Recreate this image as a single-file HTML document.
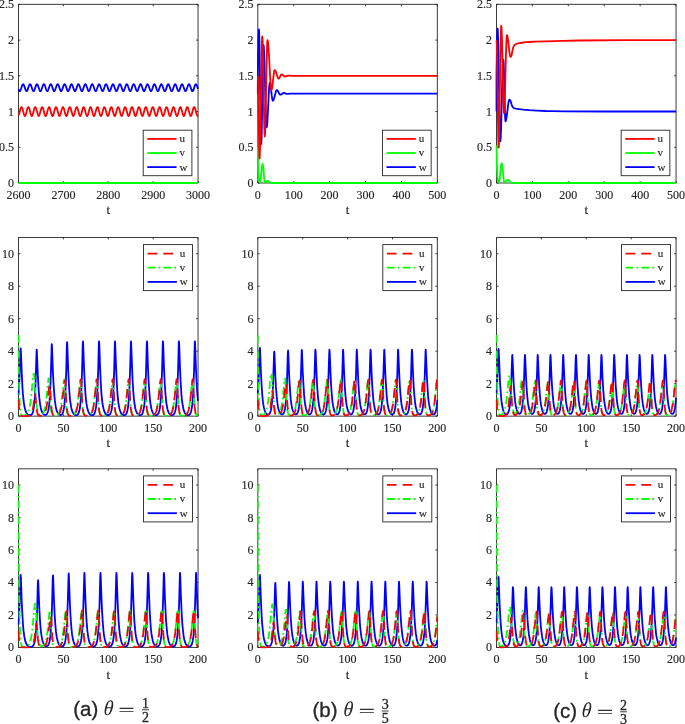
<!DOCTYPE html>
<html lang="en"><head><meta charset="utf-8"><title>Figure</title>
<style>
html,body{margin:0;padding:0;background:#fff}
svg{display:block}
text{fill:#262626;stroke:#262626;stroke-width:0.15px;font-family:"Liberation Serif","DejaVu Serif",serif}
.tk text{font-size:12px}
.xl{font-size:13px}
.lg{font-size:11px}
.cp{font-family:"Liberation Sans","DejaVu Sans",sans-serif;font-size:20.5px;stroke-width:0.3px}
.th{font-style:italic;font-size:21px;stroke-width:0}
.eq{font-size:15.6px;stroke-width:0.3px}
.fr{font-size:14px;stroke-width:0.3px}
</style></head><body>
<svg width="685" height="724" viewBox="0 0 685 724">
<rect width="685" height="724" fill="#fff"/>
<g class="tk" text-anchor="middle">
<text x="18.5" y="198.9">2600</text>
<text x="63.39" y="198.9">2700</text>
<text x="108.28" y="198.9">2800</text>
<text x="153.16" y="198.9">2900</text>
<text x="198.05" y="198.9">3000</text>
</g>
<g class="tk" text-anchor="end">
<text x="14.1" y="187">0</text>
<text x="14.1" y="151.27">0.5</text>
<text x="14.1" y="115.54">1</text>
<text x="14.1" y="79.81">1.5</text>
<text x="14.1" y="44.08">2</text>
<text x="14.1" y="8.35">2.5</text>
</g>
<text class="xl" text-anchor="middle" x="108.28" y="214.2">t</text>
<path d="M18.5,4.35H198.05V183H18.5ZM18.5,183v-1.9M18.5,4.35v1.9M63.39,183v-1.9M63.39,4.35v1.9M108.28,183v-1.9M108.28,4.35v1.9M153.16,183v-1.9M153.16,4.35v1.9M198.05,183v-1.9M198.05,4.35v1.9M18.5,183h1.9M198.05,183h-1.9M18.5,147.27h1.9M198.05,147.27h-1.9M18.5,111.54h1.9M198.05,111.54h-1.9M18.5,75.81h1.9M198.05,75.81h-1.9M18.5,40.08h1.9M198.05,40.08h-1.9M18.5,4.35h1.9M198.05,4.35h-1.9" fill="none" stroke="#262626" stroke-width="0.9"/>
<path d="M18.5,89.3l0.4,1.1 0.4,0.6 0.3,0.2 0.2-0.1 0.3-0.1 0.3-0.6 0.3-0.7 1.2-3.5 0.4-1.1 0.5-0.7 0.3-0.2 0.3,0.1 0.5,0.7 0.4,1.1 1.4,4 0.4,0.8 0.3,0.2 0.2,0.1 0.2-0.1 0.2-0.2 0.5-0.8 1.3-4 0.5-1.1 0.4-0.7 0.4-0.1 0.2,0.1 0.2,0.2 0.5,0.8 1.3,4 0.5,1.1 0.4,0.6 0.3,0.2 0.4-0.2 0.4-0.8 0.5-1.1 1.2-3.7 0.5-0.9 0.2-0.2 0.2-0.1 0.3,0.1 0.5,0.6 0.4,1.1 1.4,4 0.4,0.9 0.3,0.2 0.2,0.1 0.3-0.2 0.5-0.6 0.4-1.1 1.4-4 0.4-0.8 0.2-0.3 0.3,0 0.2,0 0.2,0.3 0.5,0.8 1.3,4 0.5,1.1 0.4,0.6 0.3,0.2 0.3-0.1 0.2-0.2 0.4-0.9 1.4-4 0.4-1.1 0.5-0.6 0.3-0.1 0.2,0.1 0.3,0.2 0.4,0.9 1.3,3.7 0.4,1.1 0.4,0.8 0.4,0.2 0.3-0.2 0.5-0.6 0.4-1.1 1.4-4 0.4-0.8 0.2-0.2 0.3-0.1 0.3,0.1 0.4,0.7 0.5,1.1 1.3,4 0.5,0.8 0.2,0.2 0.2,0.1 0.3-0.1 0.2-0.2 0.4-0.8 1.4-4 0.4-1.1 0.5-0.7 0.3-0.1 0.4,0.2 0.4,0.7 0.5,1.1 1.2,3.7 0.4,0.9 0.3,0.3 0.2,0.1 0.3-0.1 0.5-0.7 0.4-1 1.4-4 0.4-0.9 0.2-0.2 0.3-0.1 0.3,0.1 0.5,0.7 0.4,1.1 1.3,3.9 0.5,0.9 0.2,0.2 0.2,0.1 0.4-0.2 0.4-0.7 0.5-1.1 1.3-4 0.5-0.8 0.2-0.2 0.2,0 0.2,0.1 0.3,0.2 0.4,0.8 1.4,4 0.4,1.1 0.5,0.6 0.3,0.2 0.3-0.2 0.5-0.8 0.4-1.1 1.3-3.7 0.4-0.9 0.2-0.2 0.3-0.1 0.3,0.1 0.5,0.6 0.4,1.1 1.4,4 0.4,0.8 0.2,0.3 0.2,0.1 0.4-0.2 0.4-0.6 0.5-1.1 1.3-4 0.5-0.8 0.2-0.3 0.2,0 0.3,0 0.2,0.3 0.4,0.8 1.4,3.9 0.4,1.2 0.5,0.6 0.3,0.2 0.2-0.1 0.3-0.2 0.4-0.9 1.4-4 0.4-1.1 0.4-0.6 0.4-0.1 0.3,0.2 0.5,0.7 0.4,1.2 1.3,3.7 0.4,0.8 0.2,0.3 0.3,0.1 0.3-0.1 0.4-0.7 0.5-1.1 1.3-4 0.5-0.8 0.2-0.2 0.2-0.1 0.4,0.1 0.4,0.7 0.5,1.1 1.3,4 0.5,0.8 0.2,0.2 0.2,0.1 0.2-0.1 0.3-0.2 0.4-0.8 1.4-4 0.4-1.1 0.5-0.7 0.3-0.1 0.3,0.2 0.5,0.7 0.4,1.1 1.3,3.7 0.4,0.9 0.2,0.3 0.3,0.1 0.3-0.1 0.4-0.7 0.5-1 1.3-4 0.5-0.9 0.2-0.2 0.2-0.1 0.4,0.1 0.4,0.6 0.5,1.1 1.3,4 0.5,0.9 0.2,0.2 0.2,0.1 0.3-0.2 0.5-0.6 0.4-1.2 1.4-3.9 0.4-0.9 0.3-0.2 0.2,0 0.2,0 0.2,0.3 0.5,0.8 1.3,4 0.5,1.1 0.4,0.6 0.4,0.2 0.3-0.2 0.5-0.7 0.4-1.2 1.2-3.7 0.5-0.9 0.2-0.2 0.2-0.1 0.4,0.1 0.4,0.6 0.5,1.1 1.3,4 0.5,0.8 0.2,0.3 0.2,0.1 0.4-0.2 0.4-0.6 0.4-1.1 1.4-4 0.4-0.8 0.3-0.3 0.2,0 0.2,0 0.2,0.2 0.5,0.9 1.3,3.9 0.5,1.1 0.4,0.7 0.4,0.2 0.2-0.1 0.2-0.2 0.5-0.9 1.3-4 0.5-1.1 0.4-0.6 0.4-0.1 0.3,0.2 0.4,0.7 0.5,1.2 1.2,3.7 0.5,0.8 0.2,0.3 0.2,0.1 0.4-0.1 0.4-0.7 0.5-1.1 1.3-4 0.4-0.8 0.3-0.2 0.2-0.1 0.3,0.1 0.5,0.7 0.4,1.1 1.4,4 0.4,0.8 0.3,0.2 0.2,0.1 0.2-0.1 0.2-0.2 0.5-0.8 1.3-4 0.5-1.1 0.4-0.7 0.4-0.1 0.3,0.2 0.4,0.7 0.5,1.1 1.2,3.7 0.5,0.9 0.2,0.3 0.2,0.1 0.4-0.1 0.4-0.6 0.5-1.1 1.3-4 0.5-0.9 0.2-0.2 0.2-0.1 0.3,0.1 0.5,0.6 0.4,1.1 1.4,4 0.4,0.9 0.3,0.2 0.2,0.1 0.3-0.2 0.5-0.6 0.4-1.2 1.4-3.9 0.4-0.8 0.2-0.3 0.3,0 0.3,0.1 0.4,0.7 0.5,1.2 1.2,3.7 0.5,0.9 0.2,0.2 0.2,0.2 0.4-0.1 0.4-0.6 0.5-1.1 1.3-4 0.5-0.9 0.2-0.2 0.2-0.1 0.3,0.1 0.5,0.6 0.4,1.1 1.4,4 0.4,0.8 0.4,0.3 0.2,0.1 0.2-0.2 0.5-0.6 0.4-1.1 1.4-4 0.4-0.8 0.2-0.2 0.3-0.1 0.3,0.1 0.4,0.7 0.5,1.1 1.2,3.7 0.5,0.9 0.3,0.4 0.2,0.1 0.3-0.1 0.2-0.2 0.2-0.4 0.5-1 1-3.1 0.4-1.2 0.5-0.8 0.3-0.2 0.2,0 0.3,0.2 0.4,0.7 0.5,1.2 0.8,2.7" fill="none" stroke="#0000ff" stroke-width="1.8" stroke-linejoin="round"/>
<path d="M18.5,183l179.5,0" fill="none" stroke="#00ff00" stroke-width="1.8" stroke-linejoin="round"/>
<path d="M18.5,115.5l0.6-1.5 1.4-5.4 0.5-1.1 0.2-0.3 0.2-0.1 0.2,0.1 0.3,0.2 0.4,1 0.5,1.5 1,3.9 0.4,1.3 0.2,0.5 0.3,0.3 0.2,0.1 0.2-0.1 0.4-0.5 0.4-1.1 1.2-4.7 0.5-1.4 0.4-0.9 0.4-0.2 0.2,0.1 0.2,0.3 0.5,1.1 1.3,5 0.5,1.4 0.4,0.8 0.2,0.2 0.3-0.1 0.3-0.4 0.5-1 1.2-4.7 0.4-1.5 0.5-0.9 0.3-0.3 0.2,0.1 0.3,0.2 0.4,1 0.5,1.5 1,3.9 0.4,1.3 0.3,0.5 0.2,0.3 0.2,0.1 0.1,0 0.3-0.4 0.5-1 0.4-1.5 0.9-3.5 0.5-1.4 0.4-0.9 0.4-0.2 0.2,0.1 0.2,0.3 0.5,1 1.3,5 0.5,1.4 0.4,0.9 0.2,0.2 0.2,0 0.2-0.1 0.2-0.3 0.5-1.1 1.3-5 0.5-1.4 0.4-0.8 0.2-0.2 0.1,0 0.3,0.1 0.2,0.4 0.4,1 1.4,5.1 0.4,1.4 0.3,0.4 0.2,0.3 0.2,0.2 0.1,0 0.2-0.2 0.3-0.3 0.4-1.1 1.2-4.7 0.5-1.5 0.4-0.9 0.4-0.2 0.1,0 0.2,0.2 0.5,0.8 0.4,1.5 1.4,5 0.4,1 0.2,0.3 0.3,0.1 0.2-0.1 0.2-0.3 0.5-1 1.3-5.1 0.5-1.4 0.4-0.8 0.2-0.2 0.1,0 0.3,0.1 0.2,0.3 0.4,1.1 1.4,5 0.4,1.4 0.3,0.5 0.2,0.3 0.2,0.2 0.1,0 0.2-0.2 0.3-0.3 0.4-1.1 1.2-4.6 0.5-1.5 0.4-0.9 0.4-0.3 0.1,0 0.2,0.2 0.5,0.8 0.4,1.4 1.4,5 0.4,1.1 0.2,0.3 0.3,0.1 0.3-0.2 0.4-0.9 0.5-1.4 0.9-3.5 0.4-1.5 0.5-1 0.2-0.3 0.2-0.1 0.3,0.1 0.2,0.3 0.4,1 1.4,5.1 0.4,1.4 0.5,0.8 0.2,0.2 0.1,0 0.4-0.3 0.4-0.9 0.5-1.5 1.2-4.6 0.4-1.1 0.3-0.4 0.2-0.1 0.2,0.1 0.2,0.2 0.5,1 0.4,1.4 1,4 0.5,1.3 0.2,0.5 0.2,0.3 0.3,0.1 0.1,0 0.2-0.2 0.2-0.3 0.5-1.2 1.2-4.7 0.5-1.4 0.4-0.9 0.3-0.2 0.3,0.1 0.2,0.3 0.4,1 1.4,5 0.4,1.4 0.5,0.9 0.2,0.2 0.1,0 0.2-0.1 0.3-0.3 0.4-1.1 1.4-5 0.4-1.4 0.5-0.8 0.2-0.2 0.1,0 0.2,0.1 0.3,0.3 0.4,1.1 1.3,5.1 0.5,1.4 0.2,0.4 0.2,0.3 0.3,0.2 0.1,0 0.2-0.2 0.2-0.3 0.5-1.1 1.2-4.7 0.5-1.4 0.4-1 0.3-0.2 0.2,0 0.2,0.2 0.4,0.8 0.5,1.4 1.3,5.1 0.5,1 0.2,0.3 0.2,0.1 0.3-0.1 0.2-0.3 0.4-1 1.4-5.1 0.4-1.4 0.5-0.8 0.2-0.2 0.1,0 0.2,0.1 0.3,0.3 0.4,1.1 1.3,5 0.5,1.4 0.4,0.8 0.3,0.2 0.1,0 0.2-0.2 0.2-0.3 0.5-1.1 1.2-4.6 0.5-1.5 0.4-0.9 0.4-0.3 0.1,0 0.2,0.2 0.4,0.8 0.5,1.4 1.3,5 0.5,1.1 0.2,0.3 0.2,0.1 0.4-0.2 0.4-0.9 0.5-1.4 1.3-5 0.5-1 0.2-0.3 0.2-0.1 0.2,0.1 0.3,0.3 0.4,1 1.4,5.1 0.4,1.4 0.4,0.8 0.3,0.2 0.1,0 0.2-0.1 0.2-0.3 0.5-1.1 1.3-5.1 0.5-1.3 0.2-0.5 0.2-0.3 0.3-0.2 0.1,0 0.2,0.2 0.2,0.3 0.5,1.1 1.2,4.6 0.4,1.5 0.5,0.9 0.3,0.3 0.1,0 0.3-0.2 0.4-0.8 0.5-1.4 1.3-5.1 0.5-1 0.2-0.3 0.2-0.1 0.2,0.1 0.3,0.3 0.4,1 0.5,1.5 0.9,3.5 0.4,1.4 0.5,0.9 0.3,0.2 0.2-0.1 0.2-0.3 0.5-1.1 1.3-5 0.5-1.4 0.4-0.8 0.3-0.2 0.1,0 0.2,0.1 0.2,0.3 0.5,1.1 1.3,5.1 0.5,1.3 0.2,0.5 0.2,0.3 0.2,0.2 0.1,0 0.3-0.2 0.2-0.3 0.4-1.1 1.3-4.7 0.4-1.4 0.5-1 0.3-0.2 0.1,0 0.3,0.2 0.4,0.8 0.4,1.4 1.4,5.1 0.4,1 0.3,0.3 0.2,0.1 0.2-0.1 0.2-0.3 0.5-1 1.3-5.1 0.5-1.4 0.4-0.8 0.3-0.2 0.1,0 0.2,0.1 0.2,0.3 0.5,1.1 1.3,5 0.5,1.4 0.4,0.8 0.2,0.2 0.1,0 0.3-0.2 0.2-0.3 0.4-1.1 1.3-4.6 0.4-1.5 0.5-0.9 0.3-0.3 0.1,0 0.3,0.2 0.4,0.8 0.5,1.4 1.3,5 0.4,1.1 0.3,0.3 0.2,0.1 0.1,0 0.2-0.2 0.5-0.9 0.4-1.4 1.4-5 0.4-1 0.2-0.3 0.3-0.1 0.2,0.1 0.2,0.3 0.5,1 1.3,5.1 0.5,1.4 0.4,0.8 0.2,0.2 0.2,0 0.2-0.1 0.2-0.3 0.5-1.1 1.3-5.1 0.4-1.3 0.3-0.5 0.2-0.3 0.2-0.2 0.1,0 0.3,0.1 0.2,0.4 0.4,1.1 1.3,4.6 0.4,1.5 0.5,0.9 0.3,0.3 0.1,0 0.2-0.2 0.5-0.8 0.4-1.4 1.4-5.1 0.4-1 0.3-0.3 0.2-0.1 0.3,0.2 0.5,0.9 0.4,1.4 0.9,3.5 0.5,1.5 0.4,1 0.2,0.3 0.3,0.1 0.2-0.1 0.2-0.3 0.5-1.1 1.3-5 0.4-1.4 0.5-0.8 0.2-0.2 0.1,0 0.3,0.1 0.2,0.3 0.4,1.1 1.4,5.1 0.5,1.6 0.4,0.5 0.2,0.2 0.2-0.1 0.2-0.2" fill="none" stroke="#ff0000" stroke-width="1.8" stroke-linejoin="round"/>
<rect x="143.2" y="130.2" width="48.7" height="45.5" fill="#fff" stroke="#262626" stroke-width="0.9"/>
<path d="M147.3,138.9H176.6" stroke="#ff0000" stroke-width="1.8" fill="none"/>
<text class="lg" x="179.5" y="142.3">u</text>
<path d="M147.3,153H176.6" stroke="#00ff00" stroke-width="1.8" fill="none"/>
<text class="lg" x="179.5" y="156.4">v</text>
<path d="M147.3,167.1H176.6" stroke="#0000ff" stroke-width="1.8" fill="none"/>
<text class="lg" x="179.5" y="170.5">w</text>
<g class="tk" text-anchor="middle">
<text x="257.8" y="198.9">0</text>
<text x="293.71" y="198.9">100</text>
<text x="329.62" y="198.9">200</text>
<text x="365.53" y="198.9">300</text>
<text x="401.44" y="198.9">400</text>
<text x="437.35" y="198.9">500</text>
</g>
<g class="tk" text-anchor="end">
<text x="253.4" y="187">0</text>
<text x="253.4" y="151.27">0.5</text>
<text x="253.4" y="115.54">1</text>
<text x="253.4" y="79.81">1.5</text>
<text x="253.4" y="44.08">2</text>
<text x="253.4" y="8.35">2.5</text>
</g>
<text class="xl" text-anchor="middle" x="347.58" y="214.2">t</text>
<path d="M257.8,4.35H437.35V183H257.8ZM257.8,183v-1.9M257.8,4.35v1.9M293.71,183v-1.9M293.71,4.35v1.9M329.62,183v-1.9M329.62,4.35v1.9M365.53,183v-1.9M365.53,4.35v1.9M401.44,183v-1.9M401.44,4.35v1.9M437.35,183v-1.9M437.35,4.35v1.9M257.8,183h1.9M437.35,183h-1.9M257.8,147.27h1.9M437.35,147.27h-1.9M257.8,111.54h1.9M437.35,111.54h-1.9M257.8,75.81h1.9M437.35,75.81h-1.9M257.8,40.08h1.9M437.35,40.08h-1.9M257.8,4.35h1.9M437.35,4.35h-1.9" fill="none" stroke="#262626" stroke-width="0.9"/>
<path d="M257.8,93.7l0.1-27.5 0.5-27.7 0.3-7.1 0.1-1.5 0.1-0.5 0.1,1.1 0.2,3.2 0.3,12.4 1.2,84.9 0.2,9.6 0.2,2.8 0.1,0.6 0.1-0.9 0.2-2.7 0.3-11.7 0.9-56.8 0.3-16.2 0.3-7.9 0.1-2.2 0.1-0.5 0.1,0.1 0.1,0.6 0.2,2.5 0.4,9.1 1.3,48 0.4,12.6 0.3,7.1 0.2,1.7 0.2,0.5 0.1-0.4 0.3-1.3 0.4-5.4 1.2-25 0.4-7.3 0.4-3.8 0.2-0.9 0.1-0.2 0.2,0.1 0.2,0.6 0.4,2 1.2,10.2 0.4,2.8 0.4,1.6 0.1,0.4 0.2,0.1 0.2-0.1 0.2-0.2 0.4-0.9 0.5-1.6 1.2-4.6 0.4-1.7 0.5-1.2 0.3-0.3 0.2-0.1 0.2,0 0.3,0.2 0.5,0.5 1.4,2.7 0.4,0.7 0.4,0.4 0.4,0.1 0.4,0 0.4-0.2 1.7-1.3 0.4-0.2 0.4,0 0.9,0.1 1.9,0.7 0.7,0.1 3.6-0.2 146.6,0" fill="none" stroke="#0000ff" stroke-width="1.8" stroke-linejoin="round"/>
<path d="M257.8,147.1l0.3,17.8 0.2,5.7 0.2,4.5 0.3,3.2 0.3,2.1 0.4,1.3 0.2,0.4 0.3,0.3 0.1-0.1 0.2-0.6 0.3-2.3 1-10.5 0.4-2.8 0.3-1.6 0.1-0.4 0.1-0.2 0.2,0.2 0.1,0.5 0.4,2.1 1.2,13.8 0.3,1.7 0.2,0.4 0.1,0.1 0.3-0.1 0.4-0.2 1.5-1.3 0.3-0.2 0.3,0 0.3,0 0.3,0.2 1.6,1.6 0.4,0.2 0.3,0.1 166.7,0" fill="none" stroke="#00ff00" stroke-width="1.8" stroke-linejoin="round"/>
<path d="M257.8,75.8l0.1,0.4 0.1,1.8 0.2,8.1 0.9,60.5 0.2,8.9 0.1,2.4 0.1,0.8 0.2-0.8 0.1-2.4 0.3-10.9 0.4-19.4 1.1-69.5 0.3-14.2 0.2-3.7 0.1-1.1 0.1-0.2 0.1,0.8 0.2,3.3 0.3,11.8 1,57.1 0.3,15.8 0.3,8.7 0.2,2.1 0.1,0.5 0-0.2 0.1-0.9 0.2-3 0.4-11.5 1-53.9 0.4-15.6 0.3-8.8 0.2-2 0.1-0.6 0.1,0.1 0.1,0.4 0.3,1.5 0.5,5.6 0.5,7.7 1.1,21.4 0.5,7.7 0.4,4.1 0.2,1.1 0.1,0.3 0.1,0.1 0.2-0.1 0.2-0.6 0.5-2.4 1.3-11.6 0.4-3 0.3-1.7 0.2-0.5 0.2-0.1 0.2,0.1 0.3,0.2 0.5,1 0.5,1.3 1.1,3.7 0.5,1.3 0.4,0.7 0.2,0.2 0.2,0.1 0.4-0.2 0.4-0.5 1.1-2.4 0.4-0.7 0.3-0.4 0.3-0.1 0.5,0.1 0.4,0.2 1.9,1.6 0.4,0.2 0.4,0 0.9-0.1 1.9-0.7 0.8-0.1 3.6,0.2 145.1,0" fill="none" stroke="#ff0000" stroke-width="1.8" stroke-linejoin="round"/>
<rect x="382.45" y="130.2" width="48.7" height="45.5" fill="#fff" stroke="#262626" stroke-width="0.9"/>
<path d="M386.55,138.9H415.85" stroke="#ff0000" stroke-width="1.8" fill="none"/>
<text class="lg" x="418.75" y="142.3">u</text>
<path d="M386.55,153H415.85" stroke="#00ff00" stroke-width="1.8" fill="none"/>
<text class="lg" x="418.75" y="156.4">v</text>
<path d="M386.55,167.1H415.85" stroke="#0000ff" stroke-width="1.8" fill="none"/>
<text class="lg" x="418.75" y="170.5">w</text>
<g class="tk" text-anchor="middle">
<text x="496.5" y="198.9">0</text>
<text x="532.41" y="198.9">100</text>
<text x="568.32" y="198.9">200</text>
<text x="604.23" y="198.9">300</text>
<text x="640.14" y="198.9">400</text>
<text x="676.05" y="198.9">500</text>
</g>
<g class="tk" text-anchor="end">
<text x="492.1" y="187">0</text>
<text x="492.1" y="151.27">0.5</text>
<text x="492.1" y="115.54">1</text>
<text x="492.1" y="79.81">1.5</text>
<text x="492.1" y="44.08">2</text>
<text x="492.1" y="8.35">2.5</text>
</g>
<text class="xl" text-anchor="middle" x="586.27" y="214.2">t</text>
<path d="M496.5,4.35H676.05V183H496.5ZM496.5,183v-1.9M496.5,4.35v1.9M532.41,183v-1.9M532.41,4.35v1.9M568.32,183v-1.9M568.32,4.35v1.9M604.23,183v-1.9M604.23,4.35v1.9M640.14,183v-1.9M640.14,4.35v1.9M676.05,183v-1.9M676.05,4.35v1.9M496.5,183h1.9M676.05,183h-1.9M496.5,147.27h1.9M676.05,147.27h-1.9M496.5,111.54h1.9M676.05,111.54h-1.9M496.5,75.81h1.9M676.05,75.81h-1.9M496.5,40.08h1.9M676.05,40.08h-1.9M496.5,4.35h1.9M676.05,4.35h-1.9" fill="none" stroke="#262626" stroke-width="0.9"/>
<path d="M496.5,111.5l0-36.8 0.6-35.2 0.3-8.5 0.1-1.8 0.1-0.6 0.1,0.8 0.2,3.2 0.4,13 1,65.4 0.4,18.1 0.3,9 0.1,2.4 0.2,0.8 0-0.1 0.2-0.6 0.2-2.7 0.4-9.4 1.1-46.2 0.4-13 0.4-7.4 0.2-1.8 0.1-0.4 0.1,0.3 0.2,1.7 0.3,7 1.1,45.7 0.3,5.4 0.1,1.1 0.1,0.4 0.2-0.2 0.2-0.5 0.4-1.8 0.5-3.3 1.2-9.3 0.4-3.3 0.5-2.4 0.3-0.7 0.2-0.2 0.3,0.1 0.2,0.2 0.7,1.1 0.9,3.2 0.9,2.4 0.7,0.8 0.8,0.6 0.8,0.3 1.2,0.3 3.3,0.6 4.2,0.5 5.8,0.5 7.7,0.4 8.8,0.4 5.7,0.1 14,0.2 40.6,0.2 70,0" fill="none" stroke="#0000ff" stroke-width="1.8" stroke-linejoin="round"/>
<path d="M496.5,145.6l0.4,19 0.2,6.3 0.2,4.2 0.2,3 0.4,2.2 0.4,1.4 0.2,0.4 0.3,0.3 0.2-0.2 0.2-0.5 0.4-2.1 1.1-11.3 0.4-2.9 0.3-1.6 0.1-0.3 0.2-0.2 0.1,0.2 0.2,0.4 0.3,1.7 0.3,3.1 1.1,10.6 0.3,2.3 0.2,0.6 0.2,0.2 0.4,0 0.3-0.3 1.7-1.8 0.4-0.3 0.4-0.1 0.5,0.1 0.5,0.3 0.5,0.4 1.3,1.4 0.4,0.4 0.4,0.2 6.3,0.3 158.5,0" fill="none" stroke="#00ff00" stroke-width="1.8" stroke-linejoin="round"/>
<path d="M496.5,40.1l0.1,0.6 0.2,2.9 0.2,12.2 1.2,79.7 0.2,9.4 0.1,1.9 0.2,0.7 0.1-0.9 0.2-3.7 0.3-15.2 1-69.2 0.4-18.5 0.3-10.5 0.1-2.8 0.1-0.9 0.1,0.1 0.1,0.8 0.2,2.6 0.4,9.9 1.1,50.4 0.3,13.5 0.4,7.6 0.1,1.7 0.1,0.6 0.1-0.2 0.1-0.6 0.2-2.2 0.4-9.5 1.1-44.2 0.4-11.9 0.3-6.9 0.2-1.9 0.1-0.5 0.2,0.2 0.3,0.6 0.4,2.4 0.5,3.6 1,9.1 0.5,3.4 0.4,1.9 0.2,0.5 0.2,0.1 0.2-0.1 0.3-0.4 0.6-1.5 0.9-5.1 0.7-2.6 0.4-1 0.5-0.7 0.5-0.6 0.6-0.4 0.7-0.4 0.9-0.4 1.1-0.3 2.5-0.4 5.4-0.8 3-0.2 5.7-0.3 10.7-0.4 18-0.5 15.1-0.3 48.1-0.3 49.5-0.1" fill="none" stroke="#ff0000" stroke-width="1.8" stroke-linejoin="round"/>
<rect x="621.15" y="130.2" width="48.7" height="45.5" fill="#fff" stroke="#262626" stroke-width="0.9"/>
<path d="M625.25,138.9H654.55" stroke="#ff0000" stroke-width="1.8" fill="none"/>
<text class="lg" x="657.45" y="142.3">u</text>
<path d="M625.25,153H654.55" stroke="#00ff00" stroke-width="1.8" fill="none"/>
<text class="lg" x="657.45" y="156.4">v</text>
<path d="M625.25,167.1H654.55" stroke="#0000ff" stroke-width="1.8" fill="none"/>
<text class="lg" x="657.45" y="170.5">w</text>
<g class="tk" text-anchor="middle">
<text x="18.5" y="432.05">0</text>
<text x="63.39" y="432.05">50</text>
<text x="108.28" y="432.05">100</text>
<text x="153.16" y="432.05">150</text>
<text x="198.05" y="432.05">200</text>
</g>
<g class="tk" text-anchor="end">
<text x="14.1" y="420.15">0</text>
<text x="14.1" y="387.67">2</text>
<text x="14.1" y="355.19">4</text>
<text x="14.1" y="322.7">6</text>
<text x="14.1" y="290.22">8</text>
<text x="14.1" y="257.74">10</text>
</g>
<text class="xl" text-anchor="middle" x="108.28" y="447.35">t</text>
<clipPath id="c10"><rect x="17.5" y="237.5" width="181.55" height="179.85"/></clipPath>
<path d="M18.5,237.5H198.05V416.15H18.5ZM18.5,416.15v-1.9M18.5,237.5v1.9M63.39,416.15v-1.9M63.39,237.5v1.9M108.28,416.15v-1.9M108.28,237.5v1.9M153.16,416.15v-1.9M153.16,237.5v1.9M198.05,416.15v-1.9M198.05,237.5v1.9M18.5,416.15h1.9M198.05,416.15h-1.9M18.5,383.67h1.9M198.05,383.67h-1.9M18.5,351.19h1.9M198.05,351.19h-1.9M18.5,318.7h1.9M198.05,318.7h-1.9M18.5,286.22h1.9M198.05,286.22h-1.9M18.5,253.74h1.9M198.05,253.74h-1.9" fill="none" stroke="#262626" stroke-width="0.9"/>
<path d="M18.5,394.8l0.4-6.8 0.5-7.8 0.4-9.7 0.6-19.1 0.2-2.4 0.1-0.6 0,0.5 0.2,2.2 0.9,22.9 0.7,14.3 0.4,5.6 0.5,4.9 0.5,4.1 0.5,3.4 0.7,3.1 0.8,2.3 0.4,0.9 0.4,0.8 0.5,0.6 0.5,0.5 0.7,0.5 0.8,0.2 0.7,0.1 0.7-0.1 0.6-0.3 0.5-0.5 0.5-0.7 0.4-0.8 0.4-1 0.3-1.4 0.6-3.3 0.5-4.7 0.5-5.7 0.3-6.3 0.4-8.2 0.9-29 0.1-3.1 0.1-0.6 0.1,0.4 0.1,2.2 0.9,22.5 0.7,12.7 0.4,5.7 0.4,4.6 0.5,4.1 0.4,3.1 0.6,3.1 0.6,2.4 0.8,1.9 0.4,0.7 0.4,0.6 0.5,0.6 0.5,0.4 0.5,0.2 0.6,0.2 0.6-0.1 0.5-0.2 0.4-0.3 0.4-0.6 0.5-0.9 0.4-1.1 0.4-1.4 0.4-1.8 0.6-4.8 0.5-6.5 0.4-7 0.4-9.5 0.4-11 0.6-21.6 0.1-3.3 0.1-0.7 0.1,0.5 0.1,2.3 0.9,24.4 0.7,13.7 0.8,10.6 0.4,4.5 0.5,3.5 0.5,3.2 0.6,2.7 0.7,2.1 0.8,1.5 0.4,0.6 0.5,0.5 0.5,0.4 0.6,0.2 0.5,0.1 0.6-0.1 0.5-0.2 0.4-0.4 0.5-0.8 0.5-1 0.4-1.3 0.4-1.8 0.4-2.2 0.3-2.5 0.6-6.7 0.5-7.6 0.4-9.4 0.4-12.6 0.5-22.2 0.2-3.4 0.1-0.7 0.1,0.5 0.1,2.4 0.9,25 0.7,14.2 0.4,6.3 0.4,5.2 0.4,4.5 0.5,3.5 0.5,3.2 0.6,2.7 0.7,2 0.8,1.6 0.5,0.7 0.5,0.5 0.5,0.4 0.6,0.2 0.6,0.2 0.5-0.1 0.6-0.1 0.5-0.3 0.6-0.7 0.5-1 0.5-1.4 0.4-1.6 0.4-2 0.3-2.6 0.6-6.3 0.5-8 0.4-9.3 0.4-12.3 0.6-24.1 0.2-3.4 0.1-0.7 0,0.5 0.2,2.4 0.9,25.3 0.7,14.3 0.7,11.1 0.5,4.7 0.4,3.6 0.6,3.4 0.6,2.8 0.7,2.1 0.7,1.6 0.5,0.6 0.5,0.6 0.5,0.4 0.5,0.3 0.7,0.2 0.6,0 0.5-0.1 0.5-0.2 0.7-0.6 0.5-1 0.5-1.2 0.4-1.5 0.4-2 0.4-2.5 0.6-6.4 0.5-7.8 0.5-10.1 0.4-12.3 0.6-24.1 0.1-3.4 0.1-0.7 0.1,0.5 0.2,2.4 0.8,24.2 0.7,14.6 0.7,11.4 0.5,4.8 0.4,3.7 0.6,3.4 0.6,2.7 0.6,2.2 0.8,1.6 0.4,0.8 0.5,0.5 0.5,0.5 0.5,0.3 0.6,0.2 0.6,0.1 0.5-0.1 0.6-0.2 0.6-0.5 0.6-0.9 0.5-1.2 0.5-1.5 0.4-2 0.3-2.4 0.7-6.1 0.5-8.4 0.5-10.1 0.4-12.3 0.6-24.1 0.1-3.4 0.1-0.7 0.1,0.5 0.1,2.4 0.9,24.2 0.7,14.6 0.7,11.4 0.5,4.8 0.4,3.7 0.5,3.2 0.6,2.8 0.7,2.2 0.7,1.7 0.4,0.6 0.4,0.6 0.5,0.5 0.6,0.3 0.6,0.3 0.5,0.1 0.6,0 0.5-0.2 0.4-0.2 0.3-0.3 0.6-0.8 0.6-1.2 0.4-1.5 0.4-1.9 0.4-2.3 0.3-3.1 0.3-3.4 0.6-8.4 0.4-10.1 0.4-12.3 0.7-24.1 0.1-3.4 0.1-0.7 0.1,0.5 0.1,2.4 0.9,24.2 0.6,14.6 0.8,11.4 0.4,4.3 0.5,3.9 0.4,3.2 0.6,2.9 0.7,2.3 0.7,1.7 0.4,0.7 0.5,0.5 0.5,0.5 0.5,0.4 0.5,0.3 0.6,0.1 0.6,0 0.5-0.2 0.7-0.4 0.7-0.9 0.5-1.1 0.4-1.5 0.4-1.8 0.4-2.2 0.4-2.9 0.3-3.4 0.5-8 0.5-9.8 0.4-13.5 0.6-24.1 0.2-3.4 0.1-0.7 0.1,0.5 0.1,2.4 0.8,24.2 0.7,14.6 0.8,11.4 0.4,4.3 0.4,3.9 0.5,3.2 0.6,2.9 0.6,2.2 0.8,1.7 0.4,0.7 0.4,0.6 0.5,0.5 0.5,0.4 0.5,0.2 0.6,0.2 0.6,0 0.5-0.1 0.7-0.5 0.6-0.7 0.6-1.1 0.5-1.5 0.4-1.8 0.4-2.4 0.3-2.9 0.4-3.4 0.5-8 0.4-9.8 0.5-13.5 0.6-24.1 0.2-3.4 0-0.7 0.1,0.5 0.2,2.4 0.8,24.2 0.7,14.6 0.8,11.4 0.4,4.3 0.4,3.9 0.5,3.2 0.6,2.9 0.6,2.2 0.7,1.7 0.4,0.7 0.5,0.6 0.4,0.5 0.5,0.3 0.6,0.3 0.6,0.2 0.5,0 0.5-0.1 0.4-0.2 0.4-0.3 0.6-0.7 0.6-1.1 0.5-1.5 0.4-1.8 0.4-2.4 0.3-2.9 0.3-3.4 0.6-8 0.4-9.8 0.5-13.5 0.6-24.1 0.1-3.4 0.1-0.7 0.1,0.5 0.2,2.4 0.8,24.2 0.7,14.6 0.7,11.4 0.4,4.3 0.5,3.9 0.5,3.2 0.6,2.9 0.6,2.2 0.7,1.7 0.4,0.7 0.5,0.6 0.4,0.5 0.5,0.3 0.6,0.3 0.5,0.2 0.5,0 0.6-0.1 0.4-0.2 0.3-0.2 0.7-0.7 0.5-1.1 0.5-1.4 0.4-2 0.4-2.4 0.4-2.9 0.3-3.4 0.6-8 0.4-9.8 0.5-13.5 0.6-24.1 0.1-3.4 0.1-0.7 0.1,0.5 0.1,2.4 0.8,23 0.7,14.2 0.6,10.7 0.4,4.8 0.4,3.9" fill="none" stroke="#0000ff" stroke-width="1.8" stroke-linejoin="round" clip-path="url(#c10)"/>
<path d="M18.5,334.9l0.2,23 0.3,19.2 0.3,12.9 0.3,10.8 0.4,6.9 0.3,2.4 0.2,1.9 0.3,1.5 0.4,1.1 0.4,0.6 0.5,0.4 0.5,0.1 0.5,0.1 1.2-0.2 1.2-0.5 1-0.7 0.8-0.8 0.6-1.1 0.7-1.5 0.5-1.6 0.8-3.6 0.8-4.8 0.7-6.7 1.6-16.7 0.4-3.1 0.3-0.7 0.2-0.2 0.1,0.2 0.1,0.6 0.3,2.4 1.5,21.2 0.5,5.2 0.5,3.9 0.6,3.2 0.3,1.3 0.4,1 0.5,0.9 0.4,0.6 0.5,0.5 0.6,0.2 0.7,0.1 0.7-0.2 0.6-0.5 0.7-0.7 0.6-0.9 0.5-1.1 0.4-1.3 0.4-1.7 0.8-3.7 0.6-4.6 0.6-5.3 1-10.9 0.4-3.1 0.3-2 0.2-0.5 0.1-0.1 0.1,0.2 0.1,0.5 0.2,2.8 1.1,20.3 0.3,4 0.4,3.2 0.5,2.9 0.3,1 0.3,0.8 0.3,0.6 0.4,0.5 0.4,0.4 0.6,0.2 1,0 1-0.1 1-0.4 0.8-0.6 0.7-0.8 0.6-0.9 0.6-1.3 0.5-1.5 0.7-3 0.7-4 0.7-5.9 1.5-14.5 0.4-2.5 0.2-0.6 0.2-0.2 0.1,0.2 0.1,0.6 0.2,2.7 1.1,19.6 0.3,3.9 0.3,3.1 0.5,2.8 0.3,1 0.3,0.8 0.3,0.6 0.4,0.5 0.5,0.3 0.5,0.2 1,0.1 1.3-0.1 1.1-0.4 0.9-0.5 0.7-0.7 0.7-1 0.6-1.2 0.5-1.5 0.8-3 0.7-4.3 0.7-5.8 1.5-14.5 0.4-2.4 0.2-0.6 0.1-0.2 0.1,0.2 0.1,0.5 0.2,2 1,19 0.4,4.6 0.3,3.3 0.5,2.7 0.3,1.1 0.3,0.9 0.3,0.6 0.3,0.6 0.5,0.3 0.5,0.3 0.5,0.1 0.5,0.1 1.3-0.1 1.1-0.4 1-0.5 0.8-0.7 0.7-0.9 0.6-1.2 0.5-1.4 0.4-1.4 0.4-1.7 0.8-4.2 0.7-6.1 1.5-14.5 0.4-2.4 0.2-0.6 0.2-0.2 0.1,0.2 0.1,0.5 0.1,2 1,18.3 0.4,4.8 0.3,3.5 0.5,2.8 0.5,2 0.3,0.7 0.4,0.5 0.4,0.4 0.5,0.3 0.4,0.1 0.6,0.1 1.2-0.1 1.1-0.3 1-0.6 0.8-0.7 0.6-0.9 0.6-1.2 0.6-1.4 0.4-1.5 0.4-1.7 0.7-4.3 0.7-5.8 1.5-14.5 0.4-2.4 0.2-0.6 0.2-0.2 0,0.2 0.1,0.5 0.2,2 1,18.3 0.4,4.8 0.3,3.5 0.5,2.8 0.5,1.8 0.3,0.8 0.3,0.5 0.3,0.4 0.5,0.3 0.4,0.2 0.5,0.1 1.2,0 1.2-0.3 1.1-0.6 0.8-0.7 0.6-0.9 0.7-1.2 0.5-1.4 0.4-1.4 0.4-1.7 0.7-4.2 0.8-6.1 1.5-14.5 0.4-2.4 0.2-0.6 0.1-0.2 0.1,0.2 0.1,0.5 0.2,2 0.9,17.6 0.3,4.5 0.4,3.7 0.4,2.9 0.5,2 0.5,1.4 0.3,0.5 0.4,0.4 0.4,0.2 0.4,0.2 0.6,0.1 0.5,0 1.4-0.2 0.6-0.2 0.6-0.3 0.9-0.7 0.7-0.9 0.7-1.2 0.5-1.5 0.4-1.3 0.4-1.7 0.8-4.4 0.8-6.1 1.5-14.5 0.4-2.4 0.1-0.6 0.2-0.2 0.1,0.2 0.1,0.5 0.2,2 0.9,16.8 0.6,7.8 0.3,3 0.4,2.2 0.5,1.6 0.5,1.1 0.4,0.4 0.4,0.3 0.4,0.2 0.6,0.1 0.6,0 0.8-0.1 0.7-0.1 0.7-0.3 1-0.6 0.8-0.9 0.7-1.2 0.6-1.5 0.5-1.5 0.4-1.8 0.8-4.4 0.7-6.1 1.5-14.5 0.4-2.4 0.2-0.6 0.2-0.2 0.1,0.2 0.1,0.5 0.2,2.7 0.8,14.6 0.4,6.8 0.5,4.8 0.5,3.1 0.4,1.2 0.4,1 0.5,0.7 0.6,0.4 0.9,0.2 1.1,0 1.1-0.3 1-0.4 0.6-0.5 0.5-0.5 0.5-0.7 0.5-0.9 0.4-0.9 0.4-1.2 0.7-2.8 0.7-3.6 0.6-4.3 1.8-17.2 0.3-2.1 0.2-0.6 0.2-0.2 0.1,0.2 0.1,0.5 0.2,2.7 0.7,14.6 0.4,6.2 0.5,4.7 0.5,3.2 0.3,1.3 0.4,1 0.4,0.8 0.5,0.5 0.5,0.3 0.8,0.2 0.9,0 1.1-0.2 0.8-0.3 0.8-0.5 0.6-0.6 0.6-0.7 0.5-0.9 0.5-1.1 0.4-1.4 0.4-1.5 0.7-3.4 0.6-4.8 1.9-17.9 0.4-2.1 0.2-0.6 0.2-0.2 0,0.2 0.1,0.5 0.3,2.7 1,19.6 0.4,4.3 0.4,3 0.5,2.8 0.3,1 0.3,0.7 0.4,0.5 0.4,0.5 0.5,0.2 0.6,0.2" fill="none" stroke="#00ff00" stroke-width="1.8" stroke-linejoin="round" stroke-dasharray="7.8 3.1 1.75 3.1" clip-path="url(#c10)"/>
<path d="M18.5,399.9l0.4,6.4 0.5,4.2 0.2,1.6 0.3,1.1 0.3,1 0.4,0.8 0.4,0.4 0.5,0.4 0.6,0.2 0.8,0.1 1.8,0 2.3,0 1.3-0.1 1-0.3 0.6-0.2 0.4-0.3 0.4-0.4 0.4-0.5 0.6-1.1 0.6-1.8 0.5-2.2 0.5-2.7 1.3-10.7 0.3-1.2 0.1-0.3 0.1-0.1 0.1,0.1 0.1,0.4 0.2,1.3 0.7,9.2 0.4,3.8 0.4,2.6 0.5,2 0.3,0.7 0.5,0.7 0.4,0.4 0.5,0.3 0.7,0.1 0.8,0 0.9-0.2 0.8-0.3 0.6-0.3 0.5-0.5 0.6-0.6 0.4-0.7 0.5-0.8 0.4-1 0.7-2.5 0.6-2.8 0.6-3.7 1.7-14.6 0.4-1.8 0.2-0.5 0.1-0.2 0.1,0.2 0.1,0.5 0.2,1.8 0.8,12.9 0.4,5.4 0.4,4 0.5,2.6 0.3,1 0.4,0.8 0.4,0.7 0.5,0.3 0.7,0.3 0.8,0 1-0.1 0.9-0.3 0.7-0.3 0.6-0.5 0.6-0.7 0.5-0.7 0.4-0.9 0.5-1.2 0.7-2.7 0.7-3.3 0.6-4.6 1.8-17.6 0.4-2 0.2-0.5 0.1-0.1 0.1,0.1 0.1,0.6 0.2,2.2 0.7,15 0.4,6.3 0.5,4.6 0.5,3.1 0.3,1.2 0.3,0.9 0.5,0.7 0.5,0.5 0.6,0.3 0.9,0.1 1-0.1 1-0.2 0.8-0.4 0.7-0.4 0.6-0.6 0.6-0.8 0.5-0.9 0.4-1.1 0.4-1.2 0.4-1.6 0.7-3.5 0.6-4.6 1.9-18.4 0.4-2 0.2-0.5 0.1-0.2 0.1,0.2 0.1,0.6 0.2,2.3 0.7,15.3 0.4,6.4 0.4,4.4 0.5,3.3 0.3,1.3 0.4,1 0.4,0.7 0.5,0.5 0.6,0.3 0.8,0.2 1,0 1-0.2 0.9-0.3 0.8-0.5 0.6-0.6 0.6-0.7 0.6-0.9 0.4-1.1 0.5-1.3 0.4-1.6 0.7-3.7 0.6-4.6 1.9-18.6 0.3-2.1 0.2-0.5 0.2-0.1 0.1,0.2 0,0.6 0.2,2.3 0.8,15.4 0.3,5.9 0.4,4.6 0.5,3.5 0.4,1.4 0.3,1 0.4,0.8 0.5,0.5 0.6,0.4 0.7,0.2 0.9,0 1-0.2 0.9-0.3 0.8-0.4 0.6-0.5 0.7-0.7 0.5-0.9 0.5-1.1 0.4-1.2 0.5-1.7 0.7-3.6 0.6-4.5 2-19 0.3-2.1 0.2-0.5 0.1-0.1 0.1,0.2 0.1,0.6 0.2,2.3 0.8,15.4 0.3,5.9 0.4,4.6 0.5,3.5 0.3,1.4 0.4,0.9 0.4,0.8 0.4,0.6 0.5,0.3 0.7,0.2 0.9,0.1 1-0.1 0.9-0.3 0.8-0.4 0.7-0.5 0.7-0.7 0.5-0.9 0.5-1 0.5-1.3 0.4-1.6 0.7-3.6 0.7-4.7 1.9-19 0.4-2.1 0.2-0.5 0.1-0.1 0.1,0.2 0.1,0.6 0.2,2.3 0.7,15.4 0.4,5.9 0.4,4.6 0.5,3.2 0.3,1.5 0.3,1 0.3,0.8 0.5,0.6 0.5,0.4 0.7,0.2 0.8,0.1 1-0.1 1-0.3 0.8-0.3 0.8-0.6 0.6-0.6 0.6-0.9 0.5-1 0.4-1.3 0.5-1.5 0.7-3.8 0.7-4.7 1.9-19 0.4-2.1 0.2-0.5 0.1-0.1 0.1,0.2 0.1,0.6 0.2,2.3 0.7,15.4 0.4,5.9 0.4,4.6 0.4,3.2 0.4,1.5 0.3,1 0.3,0.8 0.5,0.6 0.5,0.4 0.6,0.2 0.8,0.1 0.9-0.1 1.1-0.2 0.8-0.4 0.8-0.5 0.6-0.7 0.6-0.8 0.5-1.1 0.5-1.3 0.4-1.5 0.8-3.8 0.7-4.7 1.9-19 0.4-2.1 0.1-0.5 0.2-0.1 0.1,0.2 0.1,0.6 0.1,2.3 0.8,15.4 0.4,5.9 0.4,4.6 0.4,3.2 0.3,1.3 0.3,1.1 0.4,0.8 0.4,0.7 0.5,0.3 0.6,0.3 0.8,0.1 0.9-0.1 1-0.2 0.9-0.3 0.8-0.5 0.7-0.7 0.5-0.9 0.6-1 0.4-1.2 0.5-1.5 0.7-3.2 0.5-3.8 0.7-5.7 1.4-14.3 0.4-2.6 0.2-0.6 0.2-0.2 0.1,0.2 0,0.6 0.2,2.3 0.8,15.4 0.3,5.9 0.4,4.6 0.5,3.2 0.3,1.3 0.3,1.1 0.3,0.8 0.5,0.7 0.5,0.3 0.6,0.3 0.7,0.1 0.9-0.1 1.1-0.2 0.9-0.3 0.7-0.5 0.7-0.7 0.6-0.8 0.5-1 0.5-1.3 0.5-1.5 0.6-3.2 0.6-3.8 0.7-5.7 1.4-14.3 0.4-2.6 0.2-0.6 0.1-0.2 0.1,0.2 0.1,0.6 0.2,2.3 0.7,14.5 0.4,6.1 0.3,4 0.4,3.1 0.4,2.7 0.4,1.1 0.3,0.7 0.3,0.6 0.5,0.4 0.5,0.3 0.6,0.2" fill="none" stroke="#ff0000" stroke-width="1.8" stroke-linejoin="round" stroke-dasharray="9.7 6" clip-path="url(#c10)"/>
<rect x="143.5" y="244.6" width="49" height="46" fill="#fff" stroke="#262626" stroke-width="0.9"/>
<path d="M147.6,253.6H176.9" stroke="#ff0000" stroke-width="1.8" fill="none" stroke-dasharray="9.7 6"/>
<text class="lg" x="179.8" y="257">u</text>
<path d="M147.6,267.7H176.9" stroke="#00ff00" stroke-width="1.8" fill="none" stroke-dasharray="7.8 3.1 1.75 3.1"/>
<text class="lg" x="179.8" y="271.1">v</text>
<path d="M147.6,281.9H176.9" stroke="#0000ff" stroke-width="1.8" fill="none"/>
<text class="lg" x="179.8" y="285.3">w</text>
<g class="tk" text-anchor="middle">
<text x="257.8" y="432.05">0</text>
<text x="302.69" y="432.05">50</text>
<text x="347.58" y="432.05">100</text>
<text x="392.46" y="432.05">150</text>
<text x="437.35" y="432.05">200</text>
</g>
<g class="tk" text-anchor="end">
<text x="253.4" y="420.15">0</text>
<text x="253.4" y="387.67">2</text>
<text x="253.4" y="355.19">4</text>
<text x="253.4" y="322.7">6</text>
<text x="253.4" y="290.22">8</text>
<text x="253.4" y="257.74">10</text>
</g>
<text class="xl" text-anchor="middle" x="347.58" y="447.35">t</text>
<clipPath id="c11"><rect x="256.8" y="237.5" width="181.55" height="179.85"/></clipPath>
<path d="M257.8,237.5H437.35V416.15H257.8ZM257.8,416.15v-1.9M257.8,237.5v1.9M302.69,416.15v-1.9M302.69,237.5v1.9M347.58,416.15v-1.9M347.58,237.5v1.9M392.46,416.15v-1.9M392.46,237.5v1.9M437.35,416.15v-1.9M437.35,237.5v1.9M257.8,416.15h1.9M437.35,416.15h-1.9M257.8,383.67h1.9M437.35,383.67h-1.9M257.8,351.19h1.9M437.35,351.19h-1.9M257.8,318.7h1.9M437.35,318.7h-1.9M257.8,286.22h1.9M437.35,286.22h-1.9M257.8,253.74h1.9M437.35,253.74h-1.9" fill="none" stroke="#262626" stroke-width="0.9"/>
<path d="M257.8,393.4l0.4-6.4 0.4-7 0.4-9.8 0.6-19.3 0.2-2.4 0.1-0.6 0.1,0.5 0.1,2.2 0.9,23.1 0.7,13 0.4,5.9 0.4,4.7 0.4,4.1 0.5,3.5 0.6,3.1 0.7,2.5 0.7,1.9 0.5,0.8 0.4,0.6 0.6,0.5 0.5,0.3 0.6,0.1 0.5-0.1 0.5-0.2 0.5-0.5 0.4-0.6 0.3-0.8 0.4-1.1 0.3-1.2 0.6-3.4 0.5-4.4 0.4-5.7 0.4-6.3 0.3-7.1 0.9-28.1 0.1-2.9 0.1-0.7 0.1,0.5 0.2,2.1 0.8,20.8 0.6,11.9 0.8,9.5 0.4,4 0.4,3.4 0.5,3.2 0.6,2.5 0.7,1.9 0.7,1.5 0.4,0.6 0.4,0.4 0.5,0.4 0.5,0.1 0.4,0 0.5-0.1 0.4-0.3 0.3-0.4 0.5-0.8 0.4-1.1 0.3-1.3 0.4-1.5 0.5-4.1 0.6-5.9 0.4-6.4 0.4-8.6 0.3-10.1 0.6-19.7 0.2-2.9 0.1-0.7 0,0.5 0.2,2.1 0.8,21.2 0.7,12.1 0.6,9.2 0.4,4.1 0.4,3.3 0.5,3.1 0.6,2.6 0.6,2 0.6,1.6 0.4,0.7 0.4,0.6 0.4,0.4 0.5,0.2 0.4,0.2 0.4,0 0.4-0.2 0.5-0.3 0.4-0.6 0.5-1 0.4-1.2 0.4-1.6 0.3-2 0.3-2.4 0.6-5.8 0.4-6.1 0.4-8.5 0.4-11.2 0.6-19.8 0.1-3 0.1-0.7 0.1,0.5 0.1,2.1 0.8,20.4 0.7,12.4 0.6,9.5 0.4,4.3 0.4,3.4 0.5,3.2 0.5,2.5 0.6,2.1 0.6,1.6 0.4,0.7 0.4,0.6 0.4,0.5 0.4,0.3 0.5,0.2 0.4,0 0.4-0.1 0.3-0.2 0.6-0.6 0.4-0.8 0.4-1.1 0.4-1.6 0.4-1.9 0.3-2.2 0.6-6 0.4-6.8 0.4-8.4 0.4-11.3 0.6-19.9 0.1-3.1 0.1-0.6 0.1,0.4 0.2,2.2 0.8,20.4 0.6,12.6 0.7,9.5 0.4,4.3 0.4,3.4 0.5,3.3 0.5,2.4 0.5,2.2 0.7,1.6 0.7,1.4 0.4,0.4 0.4,0.4 0.5,0.2 0.4,0.1 0.5,0 0.4-0.2 0.6-0.5 0.5-0.8 0.4-1.2 0.4-1.5 0.4-1.8 0.3-2.4 0.6-5.7 0.5-7.3 0.4-8.5 0.4-11.3 0.6-19.9 0.2-3 0-0.7 0.1,0.5 0.2,2.1 0.8,20.4 0.6,12.6 0.7,9.5 0.7,7.4 0.5,3 0.5,2.6 0.5,2.1 0.6,1.8 0.8,1.4 0.3,0.4 0.4,0.4 0.4,0.3 0.4,0.1 0.4,0 0.4-0.1 0.6-0.5 0.5-0.8 0.5-1.1 0.4-1.5 0.3-1.8 0.4-2.4 0.6-5.7 0.5-7.4 0.4-8.4 0.4-11.3 0.6-19.9 0.1-3.1 0.1-0.6 0.1,0.4 0.1,2.2 0.8,20.4 0.6,12.6 0.7,9.5 0.8,7.4 0.4,3 0.5,2.6 0.6,2.1 0.6,1.8 0.7,1.3 0.3,0.5 0.4,0.4 0.4,0.3 0.4,0.1 0.4,0.1 0.4-0.1 0.6-0.4 0.5-0.7 0.5-1.2 0.4-1.3 0.4-1.7 0.3-2.2 0.7-5.9 0.5-7.1 0.4-8.2 0.4-10.9 0.6-21.3 0.1-3.1 0.1-0.6 0.1,0.5 0.1,2.1 0.9,20.4 0.6,12.6 0.7,9.5 0.7,7 0.4,3.1 0.5,2.7 0.6,2.2 0.6,1.8 0.7,1.3 0.3,0.5 0.4,0.5 0.4,0.3 0.4,0.1 0.4,0.1 0.4-0.1 0.6-0.4 0.6-0.7 0.5-1.2 0.4-1.3 0.3-1.7 0.4-2.2 0.6-5.9 0.5-7.1 0.4-8.2 0.4-10.9 0.6-21.3 0.2-3.1 0.1-0.6 0,0.5 0.2,2.1 0.8,20.4 0.6,12.6 0.7,9.5 0.7,7 0.5,3.1 0.5,2.7 0.5,2.2 0.6,1.7 0.6,1.4 0.4,0.5 0.4,0.4 0.4,0.3 0.4,0.2 0.4,0.1 0.4-0.1 0.3-0.1 0.4-0.3 0.5-0.7 0.5-1.2 0.4-1.3 0.4-1.7 0.3-2.2 0.6-5.9 0.5-7.1 0.4-8.2 0.4-10.9 0.7-21.3 0.1-3.1 0.1-0.6 0.1,0.5 0.1,2.1 0.8,20.4 0.7,12.6 0.6,9.5 0.7,7 0.5,3.2 0.5,2.6 0.5,2.2 0.7,1.8 0.6,1.3 0.4,0.6 0.4,0.4 0.4,0.3 0.4,0.2 0.4,0 0.4,0 0.3-0.2 0.3-0.2 0.6-0.7 0.5-1.1 0.4-1.3 0.3-1.6 0.4-2.2 0.6-5.6 0.5-6.9 0.5-8.9 0.4-11 0.6-21.3 0.1-3.1 0.1-0.6 0.1,0.5 0.1,2.1 0.9,20.4 0.6,12.6 0.7,9.5 0.7,7 0.4,3.2 0.5,2.6 0.6,2.2 0.5,1.7 0.7,1.4 0.4,0.5 0.4,0.4 0.4,0.4 0.4,0.1 0.4,0.1 0.4,0 0.3-0.2 0.3-0.2 0.6-0.7 0.4-1 0.5-1.3 0.4-1.7 0.3-2.2 0.6-5.6 0.5-6.9 0.5-8.9 0.4-11 0.6-21.3 0.2-3.1 0-0.6 0.1,0.5 0.2,2.1 0.8,20.4 0.6,12.6 0.7,9.5 0.7,7 0.4,3.2 0.5,2.6 0.6,2.2 0.6,1.7 0.6,1.4 0.8,0.9 0.4,0.3 0.4,0.2 0.4,0.1 0.3-0.1 0.3-0.1 0.4-0.2 0.5-0.7 0.5-1 0.4-1.3 0.4-1.7 0.4-2.2 0.6-5.6 0.5-6.9 0.4-9 0.4-10.9 0.7-21.3 0.1-3.1 0.1-0.6 0.1,1 0.1,2.6 1.1,25.3 0.7,11.6 0.4,6.1 0.5,4.8 0.6,3.8 0.6,3.3 0.5,1.7 0.5,1.5 0.5,1.2 0.6,0.9 0.7,0.6 0.4,0.2 0.3,0.1 0.4,0 0.3-0.1 0.6-0.5 0.5-0.7 0.4-0.9 0.3-1.2 0.4-1.5 0.6-4.1 0.6-5.6" fill="none" stroke="#0000ff" stroke-width="1.8" stroke-linejoin="round" clip-path="url(#c11)"/>
<path d="M257.8,334.9l0.2,23 0.3,19.2 0.3,14.5 0.4,10.1 0.4,6.4 0.2,2.2 0.3,1.9 0.3,1.4 0.3,0.9 0.4,0.5 0.6,0.4 0.3,0 0.4,0 0.9-0.4 0.9-0.6 0.8-0.8 0.6-1 0.6-1.3 0.5-1.5 0.5-1.8 0.8-4.2 0.7-5.4 0.6-5.9 1.1-12.4 0.4-3.6 0.4-2.2 0.2-0.5 0.2-0.2 0.1,0.2 0.1,0.6 0.3,2.9 1.3,18.4 0.7,7.9 0.4,3.1 0.5,2.5 0.4,1.9 0.6,1.4 0.5,1 0.4,0.4 0.3,0.2 0.3,0.1 0.4,0.1 0.3-0.1 0.4-0.2 0.7-0.5 0.6-1 0.6-1.3 0.5-1.7 0.7-3.2 0.7-3.9 0.7-6.1 1.4-14.5 0.4-2.6 0.2-0.6 0.2-0.2 0.1,0.2 0.1,0.6 0.2,2.8 1.1,20.1 0.3,4 0.3,3.2 0.5,2.8 0.4,1.1 0.3,0.8 0.3,0.6 0.4,0.5 0.5,0.2 0.6,0.1 0.7-0.1 0.8-0.3 0.8-0.5 0.6-0.7 0.6-0.9 0.5-1.1 0.4-1.2 0.5-1.7 0.7-3.5 0.6-4.6 0.6-5.2 1.1-10.5 0.3-3 0.4-1.9 0.2-0.5 0.1-0.1 0.1,0.2 0.1,0.5 0.2,2 0.9,16.8 0.5,7.3 0.3,2.8 0.4,2.2 0.4,1.6 0.4,1.2 0.3,0.4 0.3,0.4 0.4,0.2 0.4,0.2 0.4,0 0.5,0 0.5-0.2 0.5-0.2 0.9-0.7 0.7-0.9 0.7-1.3 0.6-1.6 0.7-3.1 0.7-4.2 0.8-5.7 1.4-14.4 0.5-2.4 0.1-0.6 0.2-0.2 0.1,0.2 0.1,0.5 0.2,2.7 1.1,19.4 0.4,4.2 0.3,3 0.5,2.6 0.3,1 0.3,0.7 0.4,0.6 0.4,0.4 0.5,0.2 0.6,0.1 0.8-0.1 0.8-0.3 0.8-0.5 0.6-0.7 0.6-0.9 0.5-1 0.5-1.3 0.4-1.5 0.7-3.2 0.6-3.7 0.6-5.2 1.4-13.6 0.4-2.6 0.2-0.7 0.1-0.3 0.1,0 0.1,0.4 0.2,2.3 0.9,16.7 0.6,7.1 0.3,2.8 0.4,2.2 0.4,1.6 0.4,1.2 0.3,0.4 0.3,0.3 0.4,0.3 0.3,0.1 0.5,0.1 0.4-0.1 0.5-0.2 0.5-0.2 0.8-0.7 0.7-1 0.6-1.2 0.6-1.7 0.8-3.1 0.7-4 0.7-5.7 1.5-14.4 0.4-2.4 0.2-0.6 0.1-0.2 0.1,0.2 0.1,0.5 0.2,2.7 1.1,19.4 0.3,3.7 0.4,3.1 0.5,2.7 0.3,1.1 0.3,0.8 0.4,0.6 0.4,0.4 0.4,0.2 0.6,0.1 0.7-0.1 0.7-0.4 0.7-0.5 0.6-0.7 0.6-0.9 0.5-1.1 0.4-1.2 0.5-1.7 0.7-3.5 0.6-4.4 1.9-18.1 0.4-2.1 0.2-0.6 0.1-0.2 0.1,0 0.1,0.4 0.2,1.7 1.1,19.4 0.3,4.6 0.4,3.5 0.5,2.7 0.3,1.1 0.3,0.8 0.4,0.6 0.4,0.4 0.5,0.2 0.5,0.1 0.7-0.1 0.8-0.4 0.6-0.5 0.7-0.7 0.5-0.9 0.5-1.1 0.5-1.2 0.4-1.7 0.7-3.5 0.7-4.4 1.9-18.1 0.3-2.1 0.2-0.6 0.2-0.2 0,0 0.1,0.4 0.2,1.7 1.1,19.4 0.4,4.6 0.4,3.5 0.5,2.7 0.3,1.1 0.3,0.8 0.3,0.6 0.4,0.4 0.5,0.2 0.5,0.1 0.7-0.1 0.8-0.4 0.7-0.5 0.6-0.7 0.6-0.9 0.4-1.1 0.5-1.2 0.4-1.7 0.8-3.5 0.6-4.4 0.6-5.1 1-10.4 0.4-3 0.3-1.9 0.2-0.5 0.1-0.1 0.1,0.2 0.1,0.5 0.2,2 0.9,17.4 0.4,4.4 0.3,3.7 0.4,2.9 0.5,1.9 0.5,1.4 0.3,0.4 0.4,0.4 0.3,0.2 0.4,0.1 0.4,0 0.4,0 0.9-0.4 0.8-0.6 0.7-0.8 0.6-1.1 0.6-1.2 0.4-1.6 0.7-2.9 0.6-3.9 0.8-5.8 1.4-14 0.4-2.4 0.2-0.6 0.2-0.2 0.1,0.2 0,0.5 0.2,2 1,17.4 0.3,4.4 0.3,3.3 0.4,2.7 0.4,2.2 0.5,1.4 0.3,0.5 0.3,0.4 0.3,0.2 0.4,0.2 0.4,0.1 0.4,0 0.4-0.1 0.5-0.2 0.9-0.5 0.7-0.8 0.6-1 0.6-1.3 0.5-1.5 0.7-3 0.7-4.1 0.7-5.8 1.4-14 0.4-2.4 0.2-0.6 0.2-0.2 0.1,0.2 0.1,0.5 0.2,2.7 0.8,14.4 0.4,6.7 0.5,4.5 0.5,3.2 0.4,1.2 0.4,1 0.5,0.7 0.7,0.3 0.4,0.1 0.4-0.1 0.9-0.3 0.9-0.6 0.7-0.8 0.7-1.3 0.7-1.8 0.6-2.2 0.5-2.8 0.5-3.2 0.4-3.6 1.7-15.6 0.4-2.4 0.1-0.6 0.2-0.2 0.1,0.2 0.1,0.5 0.2,2.7 0.8,14.4 0.4,5.6 0.4,4.4 0.4,3.2 0.3,1.5 0.3,1.1 0.4,0.8 0.4,0.6 0.5,0.3 0.7,0.2 0.7-0.1 0.7-0.3 0.6-0.4 0.6-0.6 0.5-0.6 0.4-0.9 0.4-0.9 0.4-1.1 0.7-2.9 0.7-3.4 0.5-4.4 1.5-13.9 0.4-3.4 0.4-2.1 0.2-0.5 0.1,0.1 0.1,0.1" fill="none" stroke="#00ff00" stroke-width="1.8" stroke-linejoin="round" stroke-dasharray="7.8 3.1 1.75 3.1" clip-path="url(#c11)"/>
<path d="M257.8,399.9l0.4,5.8 0.4,4.5 0.3,1.7 0.2,1.2 0.4,1 0.3,0.7 0.4,0.5 0.5,0.4 0.6,0.2 0.9,0.2 1.7,0 1.6-0.1 1.1-0.3 0.8-0.3 0.4-0.4 0.4-0.4 0.7-1 0.6-1.6 0.5-1.9 0.4-2.4 0.4-3 1.3-11.6 0.2-1.6 0.2-0.4 0.1-0.1 0.1,0.1 0.1,0.4 0.2,1.5 0.7,10.5 0.4,4 0.4,3.1 0.4,2.2 0.4,1 0.3,0.6 0.3,0.5 0.5,0.4 0.5,0.2 0.7,0 0.7-0.1 0.6-0.3 0.6-0.4 0.5-0.5 0.5-0.6 0.4-0.8 0.4-0.8 0.4-1.1 0.7-2.6 0.6-3 0.5-3.6 1.8-15.4 0.3-1.9 0.2-0.6 0.2-0.2 0.1,0.2 0.1,0.5 0.1,2 0.8,13.5 0.4,5.2 0.3,3.7 0.5,2.9 0.3,1.4 0.3,0.9 0.4,0.7 0.4,0.5 0.5,0.3 0.6,0.1 0.7,0 0.7-0.3 0.7-0.3 0.5-0.6 0.6-0.6 0.5-0.8 0.4-1 0.4-1.1 0.7-2.8 0.7-3.5 0.6-4.3 1.7-16.8 0.4-2.2 0.1-0.6 0.2-0.2 0.1,0.2 0.1,0.6 0.2,2.1 0.7,14.9 0.4,5.7 0.4,4 0.4,3 0.2,1.4 0.4,1.1 0.3,0.8 0.4,0.6 0.4,0.4 0.6,0.2 0.6,0.1 0.7-0.2 0.7-0.3 0.6-0.5 0.6-0.7 0.5-0.8 0.4-0.9 0.5-1.2 0.7-2.9 0.7-3.4 0.6-4.4 1.8-17.9 0.4-2.1 0.1-0.5 0.2-0.1 0.1,0.2 0.1,0.6 0.1,2.2 0.8,15.2 0.4,5.8 0.3,4.2 0.4,3 0.3,1.4 0.3,1.2 0.3,0.8 0.4,0.6 0.5,0.5 0.5,0.2 0.7,0.1 0.7-0.2 0.7-0.3 0.7-0.4 0.6-0.6 0.5-0.7 0.5-1 0.5-1.1 0.4-1.3 0.4-1.6 0.6-3.6 0.7-4.6 1.8-17.9 0.4-2.1 0.1-0.5 0.2-0.1 0.1,0.2 0.1,0.6 0.1,2.2 0.8,14.4 0.3,6 0.4,4.3 0.4,3.2 0.2,1.5 0.3,1.1 0.3,0.9 0.4,0.6 0.4,0.5 0.5,0.3 0.6,0.1 0.6-0.1 0.8-0.3 0.6-0.4 0.6-0.6 0.6-0.7 0.4-1 0.5-1.1 0.4-1.3 0.4-1.6 0.7-3.6 0.6-4.6 1.8-17.9 0.4-2.1 0.2-0.5 0.1-0.1 0.1,0.2 0.1,0.6 0.2,2.2 0.7,14.4 0.4,6 0.3,4.3 0.4,3.3 0.3,1.4 0.3,1.1 0.3,0.9 0.3,0.6 0.4,0.5 0.5,0.3 0.6,0.1 0.6-0.1 0.8-0.2 0.7-0.4 0.6-0.6 0.5-0.8 0.5-0.9 0.5-1.1 0.4-1.2 0.4-1.6 0.7-3.5 0.6-4.5 1.9-18.3 0.3-2.1 0.2-0.5 0.2-0.1 0,0.2 0.1,0.6 0.2,2.2 0.7,14.4 0.4,6 0.4,4.3 0.3,3 0.3,1.5 0.3,1.1 0.3,1 0.3,0.7 0.4,0.5 0.5,0.3 0.6,0.1 0.6,0 0.7-0.3 0.7-0.4 0.7-0.5 0.5-0.8 0.5-0.9 0.5-1.2 0.4-1.2 0.4-1.6 0.7-3.5 0.6-4.5 1.9-18.3 0.4-2.1 0.2-0.5 0.1-0.1 0.1,0.2 0.1,0.6 0.2,2.2 0.7,14.4 0.3,6 0.4,4.3 0.3,3 0.3,1.5 0.3,1.1 0.3,1 0.3,0.6 0.4,0.5 0.5,0.3 0.6,0.2 0.6,0 0.7-0.3 0.8-0.4 0.6-0.5 0.6-0.8 0.5-0.9 0.5-1.2 0.4-1.2 0.4-1.6 0.6-3.5 0.7-4.5 1.9-18.3 0.3-2.1 0.2-0.5 0.1-0.1 0.1,0.2 0.1,0.6 0.2,2.2 0.7,14.4 0.4,6 0.3,4.3 0.4,3 0.3,1.5 0.2,1.1 0.3,1 0.3,0.6 0.5,0.5 0.4,0.3 0.5,0.2 0.7,0 0.8-0.2 0.7-0.4 0.6-0.5 0.6-0.8 0.5-0.9 0.5-1 0.4-1.4 0.4-1.5 0.8-3.7 0.6-4.5 1.9-18.3 0.3-2.1 0.2-0.5 0.2-0.1 0,0.2 0.1,0.6 0.2,2.2 0.7,14.4 0.4,6 0.3,4.3 0.4,3 0.3,1.5 0.2,1.1 0.4,1 0.3,0.6 0.4,0.5 0.4,0.3 0.6,0.2 0.6,0 0.8-0.2 0.7-0.4 0.6-0.5 0.6-0.8 0.6-0.9 0.4-1 0.5-1.4 0.4-1.5 0.7-3.7 0.6-4.5 1.9-18.3 0.4-2.1 0.1-0.5 0.2-0.1 0.1,0.2 0.1,0.6 0.1,2.2 0.8,14.4 0.3,6 0.4,4.3 0.3,3 0.3,1.5 0.3,1.1 0.3,1 0.3,0.6 0.4,0.5 0.4,0.3 0.5,0.2 0.6,0 0.8-0.2 0.7-0.4 0.7-0.5 0.6-0.8 0.5-0.9 0.5-1 0.4-1.4 0.4-1.5 0.7-3.7 0.7-4.5 1.8-18.3 0.4-2.1 0.2-0.5 0.1-0.1 0.1,0.2 0.1,0.6 0.2,2.2 0.7,14.4 0.4,6 0.3,4.3 0.4,3 0.2,1.5 0.3,1.1 0.3,1 0.3,0.6 0.4,0.5 0.4,0.3 0.6,0.2 0.6,0 0.7-0.2 0.7-0.4 0.7-0.5 0.6-0.8 0.5-0.9 0.5-1 0.4-1.4 0.4-1.5 0.8-3.7 0.6-4.5 1.9-18.3 0.3-2.1 0.2-0.5 0.2-0.1" fill="none" stroke="#ff0000" stroke-width="1.8" stroke-linejoin="round" stroke-dasharray="9.7 6" clip-path="url(#c11)"/>
<rect x="382.8" y="244.6" width="49" height="46" fill="#fff" stroke="#262626" stroke-width="0.9"/>
<path d="M386.9,253.6H416.2" stroke="#ff0000" stroke-width="1.8" fill="none" stroke-dasharray="9.7 6"/>
<text class="lg" x="419.1" y="257">u</text>
<path d="M386.9,267.7H416.2" stroke="#00ff00" stroke-width="1.8" fill="none" stroke-dasharray="7.8 3.1 1.75 3.1"/>
<text class="lg" x="419.1" y="271.1">v</text>
<path d="M386.9,281.9H416.2" stroke="#0000ff" stroke-width="1.8" fill="none"/>
<text class="lg" x="419.1" y="285.3">w</text>
<g class="tk" text-anchor="middle">
<text x="496.5" y="432.05">0</text>
<text x="541.39" y="432.05">50</text>
<text x="586.27" y="432.05">100</text>
<text x="631.16" y="432.05">150</text>
<text x="676.05" y="432.05">200</text>
</g>
<g class="tk" text-anchor="end">
<text x="492.1" y="420.15">0</text>
<text x="492.1" y="387.67">2</text>
<text x="492.1" y="355.19">4</text>
<text x="492.1" y="322.7">6</text>
<text x="492.1" y="290.22">8</text>
<text x="492.1" y="257.74">10</text>
</g>
<text class="xl" text-anchor="middle" x="586.27" y="447.35">t</text>
<clipPath id="c12"><rect x="495.5" y="237.5" width="181.55" height="179.85"/></clipPath>
<path d="M496.5,237.5H676.05V416.15H496.5ZM496.5,416.15v-1.9M496.5,237.5v1.9M541.39,416.15v-1.9M541.39,237.5v1.9M586.27,416.15v-1.9M586.27,237.5v1.9M631.16,416.15v-1.9M631.16,237.5v1.9M676.05,416.15v-1.9M676.05,237.5v1.9M496.5,416.15h1.9M676.05,416.15h-1.9M496.5,383.67h1.9M676.05,383.67h-1.9M496.5,351.19h1.9M676.05,351.19h-1.9M496.5,318.7h1.9M676.05,318.7h-1.9M496.5,286.22h1.9M676.05,286.22h-1.9M496.5,253.74h1.9M676.05,253.74h-1.9" fill="none" stroke="#262626" stroke-width="0.9"/>
<path d="M496.5,393.2l0.4-6.4 0.4-7.2 1-27.7 0.1-2.5 0.1-0.6 0.2,0.9 0.1,2.5 0.8,19.7 0.5,12 0.7,9.4 0.6,7.1 0.4,3.1 0.5,2.8 0.5,2.4 0.5,1.9 0.6,1.5 0.6,1.1 0.8,0.8 0.3,0.2 0.4,0.2 0.4,0 0.3,0 0.3-0.1 0.4-0.3 0.5-0.7 0.5-1.1 0.5-1.4 0.4-1.9 0.4-2.3 0.3-2.6 0.5-6.3 0.5-8.6 0.4-11.1 0.7-19.6 0.1-2.8 0.1-0.6 0.1,0.5 0.1,1.9 0.8,17.9 0.5,10.3 0.6,8.3 0.6,6.5 0.4,3.2 0.4,2.5 0.5,2.2 0.5,1.8 0.5,1.5 0.6,1.1 0.6,0.7 0.4,0.3 0.3,0.1 0.3,0 0.3,0 0.3-0.2 0.2-0.2 0.5-0.8 0.5-1.1 0.4-1.5 0.3-1.8 0.4-2.4 0.3-2.8 0.6-6.7 0.4-8.2 0.4-10.1 0.6-19.6 0.2-2.8 0.1-0.6 0,0.4 0.2,2 0.8,18.8 0.5,10.1 0.6,8.2 0.6,6.3 0.4,3.1 0.4,2.4 0.5,2.2 0.5,1.7 0.5,1.5 0.6,1.1 0.6,0.7 0.4,0.2 0.3,0.2 0.3,0 0.3-0.1 0.3-0.1 0.2-0.3 0.6-0.8 0.4-1.1 0.4-1.4 0.4-1.8 0.3-2.5 0.4-2.8 0.5-6.7 0.4-8.2 0.5-10.1 0.6-19.6 0.1-2.8 0.1-0.6 0.1,0.4 0.1,2 0.8,17.9 0.5,10.3 0.6,8.3 0.6,6.5 0.4,3.2 0.5,2.5 0.4,2.2 0.5,1.8 0.5,1.5 0.6,1.1 0.6,0.8 0.7,0.3 0.3,0.1 0.3-0.1 0.3-0.1 0.3-0.3 0.5-0.8 0.5-1.1 0.4-1.4 0.3-1.8 0.4-2.5 0.3-2.8 0.5-6.7 0.5-8.2 0.4-10.1 0.6-19.6 0.2-2.8 0.1-0.6 0,0.4 0.2,2 0.7,17.9 0.6,10.3 0.6,8.3 0.6,6.5 0.4,3.2 0.4,2.5 0.4,2.2 0.5,1.7 0.5,1.5 0.6,1.1 0.6,0.8 0.7,0.4 0.3,0.1 0.3,0 0.3-0.2 0.3-0.2 0.5-0.8 0.5-1 0.4-1.4 0.4-2 0.3-2.5 0.4-2.8 0.5-6.7 0.4-8.2 0.4-10.1 0.7-19.6 0.1-2.8 0.1-0.6 0.1,0.4 0.1,2 0.8,17.9 0.5,10.3 0.6,8.3 0.6,6.5 0.4,3.2 0.4,2.5 0.5,2.2 0.4,1.7 0.6,1.5 0.5,1.1 0.7,0.8 0.6,0.4 0.3,0.1 0.3,0 0.3-0.2 0.3-0.2 0.5-0.7 0.5-1 0.4-1.4 0.4-1.9 0.3-2.3 0.4-2.7 0.5-6.6 0.4-7.9 0.5-11 0.6-19.6 0.2-2.8 0.1-0.6 0,0.4 0.2,2 0.7,17.9 0.6,10.3 0.6,8.3 0.6,6.5 0.8,5.4 0.4,2.3 0.4,1.7 0.5,1.5 0.6,1.2 0.7,0.8 0.6,0.5 0.3,0.1 0.3,0 0.3-0.1 0.3-0.2 0.5-0.7 0.5-1.1 0.4-1.4 0.4-1.9 0.4-2.3 0.3-2.7 0.5-6.6 0.5-7.9 0.4-11 0.7-19.6 0.1-2.8 0.1-0.6 0.1,0.4 0.1,2 0.8,17.9 0.5,10.3 0.6,7.8 0.6,6.6 0.8,5.6 0.4,2.3 0.5,1.8 0.4,1.4 0.6,1.3 0.7,0.9 0.6,0.5 0.3,0.1 0.3,0 0.3-0.1 0.3-0.2 0.6-0.7 0.5-1.1 0.4-1.4 0.4-1.9 0.3-2.3 0.4-2.7 0.5-6.6 0.4-7.9 0.5-11 0.6-19.6 0.2-2.8 0-0.6 0.1,0.4 0.2,2 0.7,17.9 0.6,10.3 0.5,7.8 0.6,6.6 0.8,5.6 0.5,2.3 0.4,1.8 0.5,1.4 0.5,1.2 0.6,0.9 0.6,0.5 0.4,0.2 0.3,0 0.3-0.1 0.3-0.1 0.3-0.4 0.3-0.3 0.5-1.1 0.4-1.5 0.4-1.9 0.4-2.3 0.3-2.7 0.5-6.6 0.5-7.9 0.4-11 0.7-19.6 0.1-2.8 0.1-0.6 0.1,0.4 0.1,2 0.8,17.9 0.5,10.3 0.6,7.8 0.5,6.2 0.8,5.7 0.4,2.2 0.5,1.8 0.5,1.6 0.5,1.3 0.6,0.9 0.6,0.5 0.3,0.2 0.3,0.1 0.3,0 0.4-0.2 0.3-0.3 0.2-0.3 0.5-0.9 0.5-1.4 0.4-1.8 0.3-2.2 0.4-2.9 0.5-6.3 0.5-8.6 0.5-11 0.6-19.6 0.2-2.8 0-0.6 0.2,1 0.1,2.3 0.7,17 0.5,9.5 0.6,8 0.5,6.4 0.8,5.6 0.4,2.2 0.4,1.8 0.5,1.7 0.5,1.3 0.5,0.9 0.6,0.7 0.3,0.3 0.4,0.1 0.3,0 0.3-0.1 0.3-0.2 0.3-0.2 0.5-1 0.5-1.4 0.4-1.7 0.4-2.1 0.3-2.8 0.6-6.7 0.5-8.6 0.4-11 0.7-19.6 0.1-2.8 0.1-0.6 0.1,1 0.2,2.3 0.7,17 0.5,9.5 0.5,7.4 0.5,6.2 0.7,5.5 0.4,2.4 0.4,2 0.4,1.7 0.5,1.3 0.5,1.1 0.6,0.8 0.3,0.3 0.4,0.3 0.3,0.1 0.4,0 0.3-0.2 0.3-0.2 0.4-0.4 0.2-0.5 0.5-1.2 0.5-1.7 0.4-2.3 0.3-2.7 0.6-6.5 0.5-9.2 0.5-11 0.6-19.6 0.2-2.8 0-0.6 0.2,1 0.1,2.3 0.7,16 0.5,9.7 0.4,7 0.5,6 0.7,5.6 0.7,4.4 0.4,1.8 0.4,1.4 0.4,1.3 0.5,0.9 0.3,0.6 0.4,0.4 0.4,0.3 0.4,0.2 0.3,0 0.4-0.1 0.3-0.3 0.4-0.3 0.5-1 0.5-1.6 0.4-2.1 0.4-2.7 0.7-6.4 0.6-9.5 0.4-11.9 0.7-19.6 0.1-2.8 0.1-0.6 0.1,1 0.2,2.3 1,23.3 0.7,11.2 0.5,5.6 0.5,4.2 0.5,3.5 0.7,2.9 0.4,1.5 0.5,1.3 0.6,1 0.5,0.7 0.7,0.3 0.3,0.1 0.2,0 0.6-0.4 0.5-0.6 0.4-0.9 0.3-1.1 0.4-1.5 0.3-1.7 0.6-4.2 0.4-5.9" fill="none" stroke="#0000ff" stroke-width="1.8" stroke-linejoin="round" clip-path="url(#c12)"/>
<path d="M496.5,334.9l0.2,23 0.3,19.1 0.3,12.9 0.3,10.8 0.4,6.8 0.3,2.4 0.2,2 0.3,1.3 0.3,1 0.5,0.6 0.2,0.3 0.3,0.1 0.3,0 0.4,0 0.8-0.4 0.7-0.6 0.7-0.8 0.6-1 0.6-1.2 0.5-1.5 0.4-1.7 0.8-4 0.7-5.1 2.1-20.3 0.4-2.4 0.1-0.5 0.2-0.2 0.2,0.2 0.1,0.6 0.3,2.7 1.2,17 0.7,7.7 0.4,2.7 0.4,2.3 0.5,1.9 0.4,1.4 0.5,0.9 0.6,0.5 0.2,0.1 0.4,0 0.2,0 0.3-0.2 0.6-0.6 0.6-1 0.5-1.2 0.5-1.7 0.7-3.5 0.6-4.6 0.6-5.1 1.1-10.5 0.3-3 0.4-2 0.2-0.4 0.1-0.1 0.1,0.1 0.1,0.6 0.2,2 1,18.9 0.3,4.6 0.4,3.3 0.5,2.7 0.2,1 0.3,0.9 0.4,0.7 0.4,0.4 0.4,0.3 0.5,0.1 0.6-0.1 0.7-0.3 0.6-0.5 0.6-0.7 0.5-0.9 0.5-1 0.4-1.3 0.4-1.5 0.7-3.3 0.6-4.1 1.9-16.8 0.4-2 0.1-0.5 0.2-0.2 0.1,0.2 0.1,0.5 0.2,1.9 1,17.6 0.4,4.3 0.3,3.1 0.5,2.5 0.2,0.9 0.4,0.9 0.3,0.6 0.4,0.4 0.4,0.2 0.5,0.1 0.6-0.1 0.7-0.3 0.6-0.5 0.6-0.7 0.5-0.8 0.5-1 0.4-1.2 0.4-1.4 0.7-3.1 0.6-3.9 1.9-16 0.4-1.9 0.2-0.5 0.1-0.2 0.1,0.2 0.1,0.5 0.2,1.8 1,16.8 0.4,4.1 0.3,2.9 0.5,2.3 0.3,1 0.3,0.8 0.3,0.6 0.4,0.3 0.4,0.2 0.5,0.1 0.6,0 0.7-0.3 0.6-0.5 0.6-0.7 0.5-0.8 0.5-1 0.4-1.3 0.4-1.4 0.7-3.1 0.6-3.9 1.9-16 0.4-1.9 0.2-0.5 0.1-0.2 0.1,0.2 0.1,0.5 0.2,1.7 1,16.9 0.4,4.1 0.4,2.9 0.5,2.5 0.2,0.9 0.3,0.6 0.3,0.5 0.4,0.4 0.4,0.3 0.4,0 0.6,0 0.7-0.4 0.6-0.5 0.5-0.6 0.5-0.9 0.5-1.1 0.4-1.1 0.4-1.4 0.7-3.2 0.6-4.1 1.9-15.6 0.3-1.9 0.2-0.5 0.2-0.2 0,0.1 0.1,0.3 0.3,2 1,16.9 0.3,4.1 0.4,2.9 0.5,2.5 0.3,0.9 0.2,0.6 0.4,0.5 0.3,0.4 0.4,0.3 0.5,0 0.6,0 0.6-0.4 0.6-0.5 0.6-0.6 0.5-0.9 0.5-1.1 0.4-1.1 0.4-1.4 0.7-3.2 0.6-4.1 1.8-15.6 0.4-1.9 0.2-0.5 0.1-0.2 0.1,0.1 0.1,0.3 0.2,2 1,16.9 0.4,4.1 0.4,2.9 0.4,2.5 0.3,0.9 0.3,0.6 0.3,0.5 0.4,0.4 0.4,0.3 0.4,0 0.6,0 0.7-0.4 0.6-0.5 0.5-0.6 0.5-0.9 0.5-1.1 0.4-1.1 0.4-1.4 0.7-3.2 0.6-4.1 1.9-15.6 0.3-1.9 0.2-0.5 0.1-0.2 0.1,0.1 0.1,0.3 0.3,2 1,16.9 0.3,4.1 0.4,2.9 0.5,2.5 0.3,0.9 0.2,0.6 0.3,0.5 0.4,0.4 0.4,0.3 0.5,0 0.6,0 0.6-0.4 0.6-0.5 0.6-0.6 0.5-0.9 0.5-1.1 0.4-1.1 0.4-1.4 0.7-3.2 0.6-4.1 1.8-15.6 0.4-1.9 0.2-0.5 0.1-0.2 0.1,0.1 0.1,0.3 0.2,2 1,16.9 0.4,4.1 0.4,2.9 0.4,2.5 0.3,0.9 0.3,0.6 0.3,0.5 0.4,0.4 0.4,0.3 0.4,0 0.6,0 0.7-0.4 0.6-0.5 0.5-0.6 0.5-0.9 0.5-1.1 0.4-1.1 0.4-1.4 0.7-3.2 0.6-4.1 1.9-15.6 0.3-1.9 0.2-0.5 0.1-0.2 0.1,0.1 0.1,0.3 0.2,2 1.1,16.9 0.3,4.1 0.4,2.9 0.4,2.3 0.3,0.9 0.3,0.7 0.3,0.6 0.4,0.4 0.4,0.2 0.4,0.1 0.6-0.1 0.6-0.3 0.7-0.5 0.5-0.6 0.5-0.9 0.4-0.9 0.5-1.3 0.4-1.4 0.7-3.2 0.6-4.1 1.8-15.6 0.4-1.9 0.2-0.5 0.1-0.2 0.1,0.1 0.1,0.3 0.2,2 1,16.9 0.4,4.1 0.4,2.9 0.4,2.3 0.3,0.9 0.2,0.7 0.4,0.6 0.3,0.4 0.4,0.2 0.5,0.1 0.6,0 0.7-0.4 0.6-0.5 0.5-0.6 0.5-0.9 0.5-1.1 0.4-1.1 0.4-1.4 0.7-3.2 0.6-4.1 1.9-15.6 0.3-1.7 0.2-0.6 0.1-0.2 0.1-0.1 0,0.1 0.1,0.3 0.2,1.5 1.1,17.4 0.3,4.1 0.4,2.9 0.5,2.3 0.2,0.9 0.3,0.7 0.3,0.6 0.4,0.4 0.4,0.2 0.4,0.1 0.6,0 0.6-0.3 0.7-0.5 0.5-0.7 0.5-0.8 0.5-1 0.5-1.3 0.4-1.4 0.6-2.7 0.5-3.3 0.6-4.4 1.3-11.6 0.3-2.2 0.2-0.8 0.2-0.4 0.1-0.1 0.1,0.2 0.3,1.7 1,16.7 0.3,4.3 0.4,3.1 0.5,2.4 0.5,1.6 0.3,0.6 0.3,0.5 0.3,0.3 0.5,0.1 0.6,0 0.6-0.2 0.5-0.4 0.6-0.5 0.5-0.7 0.5-0.9 0.4-1 0.4-1.2 0.8-3.1 0.7-4.3 0.6-4.5 1.1-10.1 0.5-3.1 0.3-1.2 0.1-0.2 0.1,0 0,0 0.2,0.6 0.1,1.8" fill="none" stroke="#00ff00" stroke-width="1.8" stroke-linejoin="round" stroke-dasharray="7.8 3.1 1.75 3.1" clip-path="url(#c12)"/>
<path d="M496.5,399.9l0.4,5.8 0.4,4.5 0.3,1.7 0.2,1.2 0.4,1 0.3,0.7 0.5,0.6 0.6,0.4 0.8,0.2 1,0.1 1.6-0.1 1.2-0.2 0.9-0.3 0.7-0.6 0.4-0.4 0.3-0.5 0.6-1.4 0.6-1.9 0.4-2.3 0.4-2.7 0.4-3.6 1.2-13.5 0.3-1.9 0.1-0.5 0.2-0.1 0.1,0.1 0.1,0.5 0.1,1.8 0.8,11.8 0.3,4.9 0.4,3.6 0.4,2.6 0.3,1.2 0.2,0.9 0.3,0.7 0.4,0.5 0.5,0.3 0.5,0.1 0.5-0.1 0.6-0.3 0.5-0.4 0.4-0.5 0.5-0.7 0.4-0.8 0.7-2 0.7-2.8 0.5-3 0.6-3.9 1.7-15.8 0.3-2 0.2-0.6 0.2-0.2 0.1,0.2 0.1,0.5 0.2,2.1 0.7,13.4 0.3,5.6 0.4,4 0.4,3.1 0.3,1.3 0.2,1 0.3,0.8 0.5,0.7 0.4,0.3 0.5,0.2 0.6,0 0.6-0.2 0.5-0.4 0.5-0.5 0.5-0.6 0.5-0.8 0.4-0.9 0.4-1.2 0.7-2.8 0.6-3.3 0.6-4.3 1.7-16.9 0.4-2.1 0.2-0.6 0.1-0.2 0.1,0.2 0.1,0.6 0.2,2.1 0.7,14.1 0.4,5.8 0.3,4.3 0.4,2.8 0.3,1.5 0.2,1.1 0.3,0.9 0.4,0.6 0.4,0.5 0.4,0.2 0.6,0.1 0.6-0.1 0.6-0.3 0.6-0.5 0.4-0.6 0.5-0.8 0.5-1 0.4-1.1 0.7-2.8 0.6-3.5 0.6-4.3 1.8-16.9 0.3-2.1 0.2-0.6 0.2-0.2 0.1,0.2 0.1,0.6 0.1,2.1 0.8,14.1 0.3,5.8 0.3,3.8 0.4,3 0.3,1.6 0.2,1.2 0.4,0.9 0.3,0.6 0.3,0.5 0.5,0.3 0.5,0.1 0.6-0.1 0.6-0.2 0.6-0.5 0.5-0.6 0.5-0.8 0.4-0.9 0.4-1.1 0.8-2.8 0.6-3.4 0.6-4.2 1.9-17.6 0.3-2 0.2-0.5 0.1-0.1 0.1,0.2 0.1,0.6 0.2,2.1 0.7,14.1 0.4,5.8 0.3,3.8 0.3,3 0.5,2.6 0.4,1 0.3,0.7 0.3,0.5 0.5,0.3 0.5,0.1 0.5,0 0.6-0.3 0.6-0.4 0.6-0.6 0.5-0.8 0.4-0.9 0.5-1.2 0.8-2.8 0.6-3.4 0.6-4.2 1.8-17.6 0.4-2 0.2-0.5 0.1-0.1 0.1,0.2 0.1,0.6 0.1,2.1 0.8,14.1 0.3,5.8 0.3,3.8 0.4,3 0.5,2.6 0.3,1 0.3,0.7 0.4,0.5 0.4,0.3 0.5,0.1 0.5,0 0.6-0.3 0.7-0.4 0.6-0.6 0.4-0.8 0.5-0.9 0.4-1.2 0.8-2.8 0.6-3.4 0.6-4.2 1.9-17.6 0.3-2 0.2-0.5 0.1-0.1 0.1,0.2 0.1,0.6 0.2,2.1 0.7,14.1 0.4,5.8 0.3,3.8 0.3,3 0.5,2.6 0.3,0.9 0.3,0.7 0.4,0.5 0.4,0.3 0.5,0.2 0.5,0 0.6-0.2 0.7-0.5 0.6-0.6 0.5-0.7 0.4-0.9 0.4-1.1 0.8-2.8 0.6-3.3 0.7-4.5 1.8-17.6 0.4-2 0.1-0.5 0.2-0.1 0.1,0.2 0.1,0.6 0.1,2.1 0.8,14.1 0.3,5.8 0.3,3.8 0.3,2.7 0.5,2.7 0.3,0.9 0.3,0.8 0.4,0.6 0.4,0.3 0.5,0.2 0.5,0 0.6-0.2 0.7-0.4 0.6-0.6 0.5-0.7 0.4-0.9 0.5-1.1 0.4-1.3 0.4-1.6 0.6-3.3 0.6-4.5 1.9-17.6 0.3-2 0.2-0.5 0.1-0.1 0.1,0.2 0.1,0.6 0.2,2.1 0.7,14.1 0.4,5.8 0.3,3.8 0.3,2.7 0.5,2.7 0.3,0.9 0.3,0.8 0.3,0.6 0.4,0.3 0.5,0.2 0.5,0 0.7-0.2 0.6-0.4 0.6-0.6 0.5-0.7 0.5-0.9 0.4-1.1 0.4-1.3 0.4-1.6 0.6-3.3 0.7-4.5 1.8-17.6 0.4-2 0.1-0.5 0.2-0.1 0.1,0.2 0.1,0.5 0.1,2.2 0.8,14.1 0.3,5.8 0.3,3.8 0.3,2.7 0.5,2.7 0.3,0.9 0.3,0.8 0.4,0.5 0.4,0.4 0.4,0.2 0.5,0 0.7-0.2 0.6-0.4 0.6-0.6 0.5-0.7 0.4-0.9 0.5-1.1 0.4-1.3 0.4-1.6 0.6-3.3 0.6-4.5 1.9-17.6 0.3-2 0.2-0.5 0.1-0.1 0.1,0.2 0.1,0.6 0.2,2.1 0.7,14.1 0.4,5.8 0.3,3.8 0.3,2.7 0.5,2.7 0.3,0.9 0.3,0.8 0.3,0.5 0.4,0.4 0.4,0.2 0.6,0 0.7-0.2 0.6-0.4 0.6-0.6 0.5-0.7 0.5-0.9 0.4-1.1 0.4-1.3 0.4-1.6 0.6-3.3 0.7-4.5 1.8-17.6 0.4-2 0.1-0.5 0.2-0.1 0.1,0.2 0.1,0.6 0.1,2.1 0.8,14.1 0.3,5.8 0.3,3.8 0.3,2.7 0.5,2.7 0.3,0.9 0.3,0.8 0.3,0.5 0.4,0.4 0.5,0.2 0.5,0 0.7-0.2 0.6-0.4 0.6-0.6 0.6-0.7 0.4-0.9 0.5-1.1 0.4-1.3 0.4-1.6 0.6-3.3 0.6-4.5 1.9-17.6 0.3-2 0.2-0.5 0.1-0.1 0.1,0.2 0.1,0.6 0.2,2.1 0.7,14.1 0.4,5.8 0.3,3.8 0.3,2.7 0.4,2.5 0.3,1 0.3,0.8 0.3,0.5 0.4,0.5 0.5,0.2 0.5,0 0.6-0.1 0.6-0.4 0.6-0.5 0.6-0.7 0.4-0.8 0.5-1 0.7-2.5 0.7-3.6 0.7-4.3 0.6-5.1 1-10.5 0.4-3.3 0.3-1.4 0.1-0.4 0.1-0.2 0.1,0.1 0.1,0.1 0.1,1.5" fill="none" stroke="#ff0000" stroke-width="1.8" stroke-linejoin="round" stroke-dasharray="9.7 6" clip-path="url(#c12)"/>
<rect x="621.5" y="244.6" width="49" height="46" fill="#fff" stroke="#262626" stroke-width="0.9"/>
<path d="M625.6,253.6H654.9" stroke="#ff0000" stroke-width="1.8" fill="none" stroke-dasharray="9.7 6"/>
<text class="lg" x="657.8" y="257">u</text>
<path d="M625.6,267.7H654.9" stroke="#00ff00" stroke-width="1.8" fill="none" stroke-dasharray="7.8 3.1 1.75 3.1"/>
<text class="lg" x="657.8" y="271.1">v</text>
<path d="M625.6,281.9H654.9" stroke="#0000ff" stroke-width="1.8" fill="none"/>
<text class="lg" x="657.8" y="285.3">w</text>
<g class="tk" text-anchor="middle">
<text x="18.5" y="663.35">0</text>
<text x="63.39" y="663.35">50</text>
<text x="108.28" y="663.35">100</text>
<text x="153.16" y="663.35">150</text>
<text x="198.05" y="663.35">200</text>
</g>
<g class="tk" text-anchor="end">
<text x="14.1" y="651.45">0</text>
<text x="14.1" y="618.97">2</text>
<text x="14.1" y="586.49">4</text>
<text x="14.1" y="554">6</text>
<text x="14.1" y="521.52">8</text>
<text x="14.1" y="489.04">10</text>
</g>
<text class="xl" text-anchor="middle" x="108.28" y="678.65">t</text>
<clipPath id="c20"><rect x="17.5" y="468.8" width="181.55" height="179.85"/></clipPath>
<path d="M18.5,468.8H198.05V647.45H18.5ZM18.5,647.45v-1.9M18.5,468.8v1.9M63.39,647.45v-1.9M63.39,468.8v1.9M108.28,647.45v-1.9M108.28,468.8v1.9M153.16,647.45v-1.9M153.16,468.8v1.9M198.05,647.45v-1.9M198.05,468.8v1.9M18.5,647.45h1.9M198.05,647.45h-1.9M18.5,614.97h1.9M198.05,614.97h-1.9M18.5,582.49h1.9M198.05,582.49h-1.9M18.5,550h1.9M198.05,550h-1.9M18.5,517.52h1.9M198.05,517.52h-1.9M18.5,485.04h1.9M198.05,485.04h-1.9" fill="none" stroke="#262626" stroke-width="0.9"/>
<path d="M18.5,624.6l0.4-7.2 0.5-8.4 0.4-10.4 0.6-20.4 0.2-2.6 0.1-0.6 0,0.5 0.2,2.4 0.8,23.4 0.7,13.3 0.6,10.2 0.4,4.5 0.4,3.7 0.5,3.4 0.5,2.7 0.6,2.3 0.6,1.8 0.8,1.4 0.8,1 0.4,0.4 0.5,0.3 0.5,0.3 0.6,0.2 0.6,0.1 0.6,0 0.5-0.1 0.5-0.1 0.5-0.2 0.4-0.3 0.3-0.4 0.4-0.5 0.6-1.2 0.5-1.8 0.5-2.1 0.4-2.8 0.3-3.2 0.4-4.4 0.6-10.1 0.5-12.8 0.6-23 0.2-3 0.1-0.7 0.1,0.5 0.1,2.1 0.9,22.8 0.7,13.5 0.4,5.7 0.4,4.5 0.5,4.3 0.5,3.3 0.7,3.3 0.7,2.4 0.4,0.9 0.5,0.9 0.4,0.6 0.5,0.5 0.6,0.4 0.6,0.3 0.6,0 0.6-0.2 0.5-0.4 0.4-0.5 0.4-0.7 0.4-1.1 0.4-1.3 0.3-1.4 0.5-3.6 0.5-4.9 0.5-6.4 0.3-7 0.4-7.9 0.8-31.5 0.2-3.3 0.1-0.7 0.1,0.5 0.1,2.4 0.8,22.1 0.6,13.6 0.7,10.4 0.7,7.6 0.5,3.4 0.4,2.7 0.6,2.4 0.5,2 0.7,1.5 0.7,1.2 0.8,0.7 0.5,0.3 0.5,0.2 0.5,0.1 0.4,0 0.5-0.1 0.4-0.2 0.3-0.3 0.4-0.4 0.6-1.1 0.6-1.5 0.4-1.9 0.4-2.4 0.4-3.3 0.7-7.9 0.5-11.5 0.5-14.5 0.7-23.8 0.1-3.4 0.1-0.7 0.1,0.5 0.1,2.4 0.8,22.8 0.6,13.1 0.7,10.9 0.7,8 0.4,3.6 0.5,2.8 0.5,2.6 0.6,2 0.6,1.6 0.8,1.2 0.8,0.8 0.4,0.3 0.5,0.3 0.5,0.1 0.5,0 0.4-0.1 0.4-0.2 0.4-0.2 0.4-0.4 0.6-1.1 0.5-1.5 0.5-2 0.4-2.5 0.4-3.3 0.7-7.9 0.5-11.6 0.5-14.6 0.7-24 0.1-3.4 0.1-0.7 0.1,0.5 0.1,2.4 0.8,23 0.6,13.1 0.7,11 0.7,8.1 0.5,3.6 0.4,2.8 0.5,2.6 0.6,2.1 0.7,1.5 0.7,1.3 0.8,0.8 0.4,0.4 0.5,0.2 0.6,0.2 0.5,0 0.4,0 0.5-0.2 0.4-0.2 0.4-0.4 0.4-0.5 0.3-0.6 0.6-1.5 0.5-2 0.4-2.3 0.4-3.3 0.6-7.6 0.6-11.2 0.5-14.2 0.6-25.5 0.2-3.4 0.1-0.7 0.1,0.5 0.1,2.4 0.8,23 0.6,13.1 0.7,11 0.7,8.1 0.4,3.6 0.5,2.8 0.5,2.4 0.5,2 0.6,1.6 0.7,1.3 0.8,0.9 0.5,0.4 0.4,0.2 0.5,0.2 0.5,0.1 0.5,0 0.5-0.2 0.4-0.2 0.4-0.3 0.4-0.5 0.3-0.5 0.5-1.4 0.5-1.9 0.5-2.4 0.4-3.2 0.4-3.7 0.3-4.3 0.6-11.2 0.4-14.2 0.7-25.5 0.2-3.4 0-0.7 0.1,0.5 0.2,2.4 0.8,23 0.6,13.1 0.6,10.4 0.7,7.8 0.4,3.8 0.5,3 0.5,2.5 0.5,2.1 0.6,1.6 0.6,1.4 0.8,0.9 0.9,0.7 0.5,0.2 0.5,0.1 0.4,0 0.5-0.1 0.4-0.2 0.4-0.3 0.4-0.4 0.4-0.6 0.5-1.4 0.5-1.9 0.5-2.5 0.4-3.1 0.4-3.7 0.3-4.3 0.6-11.2 0.4-14.2 0.7-25.5 0.2-3.4 0-0.7 0.1,0.5 0.2,2.4 0.8,23 0.5,12.3 0.6,10.6 0.7,8 0.4,3.5 0.5,3.2 0.5,2.6 0.5,2 0.5,1.8 0.7,1.4 0.7,1 0.8,0.7 0.5,0.3 0.6,0.2 0.5,0.1 0.5-0.1 0.5-0.2 0.4-0.3 0.4-0.3 0.3-0.6 0.6-1.2 0.5-1.9 0.5-2.6 0.4-3 0.4-3.6 0.4-4.8 0.5-11.2 0.5-14.2 0.7-25.5 0.1-3.4 0.1-0.7 0.1,0.5 0.2,2.4 0.8,23 0.5,12.3 0.6,9.9 0.6,7.8 0.4,3.7 0.4,3 0.5,2.6 0.5,2.3 0.5,1.8 0.6,1.4 0.7,1.2 0.7,0.8 0.5,0.4 0.5,0.3 0.6,0.1 0.5,0 0.5-0.1 0.5-0.2 0.4-0.4 0.4-0.5 0.3-0.6 0.4-0.7 0.5-1.8 0.5-2.5 0.4-2.9 0.4-3.5 0.3-4.6 0.6-10.9 0.5-15.2 0.7-25.5 0.1-3.4 0.1-0.7 0.1,0.5 0.2,2.4 0.7,21.8 0.6,12.6 0.5,9.5 0.6,7.6 0.7,6.6 0.4,2.7 0.5,2.4 0.4,2 0.5,1.6 0.6,1.3 0.7,1 0.4,0.6 0.6,0.5 0.6,0.3 0.6,0.2 0.6,0 0.6-0.1 0.5-0.2 0.5-0.4 0.3-0.5 0.4-0.6 0.6-1.6 0.5-2.2 0.5-3.1 0.4-3.6 0.4-4.3 0.6-11.2 0.6-14.7 0.7-27 0.1-3.4 0.1-0.7 0.1,1.1 0.2,2.9 0.6,19.5 0.5,10.9 0.4,8.8 0.5,7.4 0.7,7 0.6,5.3 0.4,2.3 0.4,1.9 0.5,1.6 0.4,1.3 0.5,1 0.5,0.8 0.5,0.7 0.7,0.6 0.6,0.3 0.7,0.2 0.7,0 0.6-0.2 0.5-0.3 0.5-0.5 0.4-0.7 0.4-0.8 0.6-2.1 0.5-2.8 0.5-3.6 0.4-4.4 0.3-5.4 0.3-6 0.6-15.7 0.8-27 0.1-3.4 0.1-0.7 0.1,1.1 0.1,2.9 1.1,28.4 0.6,13" fill="none" stroke="#0000ff" stroke-width="1.8" stroke-linejoin="round" clip-path="url(#c20)"/>
<path d="M18.5,485l0.2,46.1 0.3,38.3 0.3,29.1 0.4,20.2 0.4,13 0.2,4.4 0.3,3.7 0.3,2.9 0.3,1.9 0.5,1.4 0.3,0.4 0.2,0.3 0.4,0.3 0.5,0.1 0.6,0.1 0.7-0.1 0.8-0.1 0.8-0.2 0.7-0.3 0.6-0.4 0.9-0.8 0.8-1 0.6-1.4 0.7-1.8 0.4-1.7 0.5-2.1 0.8-5.1 0.8-7.2 1.5-17.1 0.5-3.2 0.2-0.8 0.2-0.2 0.1,0.3 0.2,0.6 0.2,2.4 1.5,21.8 0.5,5.4 0.5,3.9 0.6,3.4 0.4,1.3 0.4,1 0.4,0.9 0.4,0.7 0.5,0.4 0.6,0.3 0.7,0 0.7-0.2 0.6-0.5 0.6-0.6 0.6-0.9 0.5-1.1 0.4-1.4 0.4-1.5 0.7-3.6 0.7-4.4 0.5-5.3 1.1-10.6 0.3-3 0.4-2 0.2-0.5 0.1-0.1 0.1,0.2 0.1,0.5 0.2,2.8 0.8,15.5 0.5,6.7 0.5,5 0.3,1.8 0.3,1.3 0.5,1.3 0.3,0.5 0.3,0.4 0.3,0.3 0.4,0.2 0.9,0.2 0.7,0 0.7-0.1 0.7-0.2 0.6-0.2 0.5-0.3 0.5-0.4 0.5-0.5 0.4-0.5 0.7-1.4 0.7-1.8 0.6-2.2 0.5-2.7 0.5-3.3 0.5-4.1 1.6-16 0.4-2.5 0.2-0.6 0.2-0.2 0.1,0.2 0.1,0.5 0.2,2.1 1,19.4 0.3,4.7 0.4,3.4 0.5,2.9 0.3,1.1 0.3,0.9 0.3,0.6 0.4,0.5 0.4,0.4 0.6,0.2 1,0.1 1.2-0.1 1.1-0.4 0.9-0.6 0.7-0.7 0.6-1 0.6-1.2 0.5-1.4 0.8-3 0.7-4.3 0.7-5.8 1.5-14.5 0.4-2.4 0.2-0.6 0.2-0.2 0.1,0.2 0.1,0.5 0.1,2 1.1,19 0.3,4.6 0.4,3.3 0.4,2.7 0.3,1.1 0.3,0.9 0.3,0.6 0.4,0.6 0.5,0.4 0.5,0.2 1.1,0.2 1.3-0.2 1.1-0.3 1-0.6 0.7-0.7 0.7-0.9 0.6-1.2 0.5-1.4 0.4-1.5 0.4-1.7 0.7-4.3 0.8-5.8 1.4-14.5 0.5-2.4 0.1-0.6 0.2-0.2 0.1,0.2 0.1,0.5 0.2,2 1,19 0.4,4.6 0.3,3.3 0.5,2.7 0.2,1.1 0.4,0.9 0.3,0.6 0.3,0.5 0.4,0.4 0.5,0.2 0.5,0.2 0.5,0 1.2-0.1 1.1-0.3 1-0.6 0.8-0.7 0.6-1 0.6-1.2 0.5-1.5 0.8-3 0.7-4.3 0.7-5.8 1.5-14.5 0.4-2.4 0.2-0.6 0.2-0.2 0.1,0.2 0.1,0.5 0.1,2 1,18.3 0.4,4.8 0.4,3.5 0.4,2.8 0.5,2 0.4,0.7 0.3,0.5 0.4,0.4 0.5,0.3 0.4,0.1 0.5,0.1 1.2-0.1 1.1-0.3 1-0.6 0.8-0.7 0.6-1 0.6-1.2 0.5-1.5 0.8-3 0.7-4.3 0.7-5.8 1.5-14.5 0.4-2.4 0.2-0.6 0.2-0.2 0.1,0.2 0.1,0.5 0.1,2 1,18.3 0.4,4.8 0.4,3.5 0.4,2.8 0.5,1.8 0.3,0.8 0.3,0.5 0.4,0.4 0.4,0.3 0.4,0.2 0.5,0.1 1.2-0.1 1.3-0.3 1-0.5 0.8-0.7 0.6-0.9 0.7-1.3 0.5-1.4 0.4-1.5 0.4-1.7 0.7-4.3 0.7-5.8 1.5-14.5 0.4-2.4 0.2-0.6 0.2-0.2 0.1,0.2 0.1,0.5 0.1,2 0.9,16.8 0.6,7.8 0.4,3 0.3,2 0.4,1.5 0.5,1.1 0.4,0.5 0.4,0.4 0.4,0.2 0.5,0.1 0.7,0.1 0.7-0.1 0.7-0.1 0.7-0.3 1-0.6 0.8-0.8 0.7-1.2 0.7-1.6 0.5-1.5 0.4-1.8 0.8-4.4 0.7-6.1 1.5-14.5 0.4-2.4 0.2-0.6 0.2-0.2 0.1,0.2 0.1,0.5 0.2,2.7 0.7,14.6 0.4,5.6 0.4,4.1 0.4,3.2 0.5,2.5 0.3,0.9 0.4,0.8 0.5,0.5 0.5,0.4 0.6,0.2 0.7,0 1.1-0.1 1-0.3 0.9-0.4 0.7-0.6 0.7-0.9 0.6-1 0.5-1.2 0.5-1.5 0.7-3.1 0.6-3.9 0.7-5.5 1.5-14.5 0.4-2.4 0.2-0.6 0.2-0.2 0,0.2 0.1,0.5 0.3,2.7 0.8,15.4 0.4,6.5 0.6,5 0.3,1.8 0.3,1.3 0.4,1.2 0.6,0.8 0.3,0.3 0.3,0.3 0.4,0.1 0.5,0.1 0.7,0 0.7-0.1 0.7-0.1 0.7-0.2 0.6-0.3 0.5-0.4 0.4-0.4 0.5-0.6 0.7-1.3 0.7-1.7 0.6-2.3 0.6-2.7 0.4-3.2 0.5-4 1.7-15.7 0.4-2.4 0.1-0.6 0.2-0.2 0.1,0.2 0.1,0.5 0.2,2 0.9,17.6 0.3,4.5 0.4,3.7 0.4,2.9 0.5,2.1 0.5,1.4 0.3,0.4 0.4,0.4" fill="none" stroke="#00ff00" stroke-width="1.8" stroke-linejoin="round" stroke-dasharray="7.8 3.1 1.75 3.1" clip-path="url(#c20)"/>
<path d="M18.5,631.2l0.4,6.4 0.5,4.5 0.3,1.5 0.3,1.3 0.3,0.9 0.4,0.6 0.5,0.5 0.5,0.3 0.7,0.1 0.9,0.1 2.7,0 2.5,0 1.3-0.2 1-0.3 0.5-0.2 0.4-0.4 0.4-0.4 0.4-0.5 0.6-1.3 0.6-2 0.5-2.1 0.4-3 1.4-11.6 0.2-1.3 0.2-0.3 0.1-0.1 0,0.2 0.1,0.3 0.2,1.5 0.8,9.9 0.4,4.1 0.4,2.8 0.5,2.1 0.3,0.9 0.4,0.6 0.4,0.5 0.4,0.3 0.7,0.1 0.7,0.1 0.9-0.2 0.8-0.3 0.6-0.3 0.6-0.5 0.5-0.6 0.5-0.6 0.4-0.9 0.4-1 0.7-2.4 0.7-3 0.5-3.8 1.8-14.7 0.3-1.9 0.2-0.5 0.2-0.1 0.1,0.1 0.1,0.5 0.2,1.9 0.7,13 0.4,5.5 0.5,4 0.3,1.7 0.2,1.2 0.3,1 0.4,0.8 0.5,0.6 0.5,0.3 0.7,0.2 0.9,0.1 1.1-0.2 1-0.3 0.7-0.4 0.6-0.4 0.6-0.7 0.5-0.7 0.4-0.9 0.5-1.2 0.7-2.8 0.7-3.3 0.6-4.6 1.8-17.8 0.4-2.1 0.2-0.5 0.1-0.1 0.1,0.2 0.1,0.6 0.2,2.2 0.7,15.1 0.4,6.4 0.4,4.3 0.5,3.2 0.4,1.3 0.3,1 0.4,0.7 0.5,0.5 0.6,0.3 0.9,0.1 1,0 1-0.2 0.8-0.4 0.7-0.4 0.6-0.7 0.5-0.7 0.5-0.9 0.5-1.1 0.4-1.3 0.4-1.6 0.6-3.5 0.7-4.6 1.9-18.6 0.3-2.1 0.2-0.5 0.1-0.1 0.1,0.2 0.1,0.6 0.2,2.3 0.8,15.4 0.4,6.5 0.4,4.4 0.5,3.3 0.3,1.3 0.3,1.1 0.4,0.7 0.5,0.5 0.7,0.3 0.7,0.2 1,0 1.1-0.2 0.8-0.3 0.8-0.5 0.7-0.6 0.6-0.7 0.5-0.9 0.4-1.1 0.5-1.3 0.4-1.6 0.7-3.7 0.6-4.6 1.9-18.6 0.4-2.1 0.2-0.5 0.1-0.1 0.1,0.2 0.1,0.6 0.2,2.3 0.7,15.4 0.4,5.9 0.4,4.6 0.5,3.5 0.3,1.4 0.4,1 0.4,0.8 0.4,0.5 0.5,0.4 0.8,0.1 0.9,0.1 1-0.2 0.9-0.2 0.8-0.5 0.7-0.5 0.6-0.7 0.5-0.9 0.5-1.1 0.5-1.2 0.4-1.7 0.7-3.6 0.7-4.5 1.9-19 0.4-2.1 0.1-0.5 0.2-0.1 0.1,0.2 0.1,0.6 0.1,2.3 0.8,15.4 0.4,5.9 0.4,4.6 0.4,3.2 0.3,1.5 0.3,1 0.4,0.8 0.5,0.6 0.5,0.4 0.6,0.2 0.9,0.1 1-0.1 0.9-0.3 0.8-0.4 0.7-0.5 0.6-0.7 0.6-0.9 0.5-1 0.4-1.3 0.5-1.6 0.7-3.6 0.7-4.7 1.9-19 0.4-2.1 0.1-0.5 0.2-0.1 0.1,0.2 0.1,0.6 0.1,2.3 0.8,15.4 0.4,5.9 0.4,4.6 0.4,3.2 0.3,1.5 0.3,1 0.4,0.8 0.5,0.6 0.5,0.4 0.6,0.2 0.8,0.1 1-0.1 1-0.3 0.8-0.3 0.7-0.6 0.7-0.6 0.5-0.9 0.5-1 0.5-1.3 0.4-1.5 0.8-3.8 0.7-4.7 1.9-19 0.4-2.1 0.1-0.5 0.2-0.1 0.1,0.2 0,0.6 0.2,2.3 0.8,15.4 0.4,5.9 0.4,4.6 0.4,3.2 0.3,1.3 0.3,1.1 0.3,0.8 0.5,0.6 0.5,0.4 0.6,0.3 0.8,0.1 0.9-0.1 1-0.2 0.8-0.4 0.8-0.5 0.6-0.7 0.6-0.8 0.5-1.1 0.5-1.3 0.4-1.5 0.8-3.8 0.7-4.7 1.9-19 0.4-2.1 0.1-0.5 0.2-0.1 0.1,0.2 0.1,0.6 0.1,2.3 0.8,15.4 0.4,5.9 0.4,4.6 0.4,3.2 0.3,1.3 0.3,1.1 0.3,0.8 0.5,0.7 0.5,0.4 0.6,0.2 0.8,0.1 1-0.1 1-0.2 0.9-0.3 0.7-0.5 0.7-0.7 0.6-0.8 0.5-1 0.5-1.3 0.5-1.5 0.6-3.2 0.6-3.8 0.7-5.7 1.4-14.3 0.4-2.6 0.2-0.6 0.1-0.2 0.1,0.2 0.1,0.6 0.2,2.3 0.8,15.4 0.3,5.9 0.4,4.6 0.5,3.2 0.2,1.3 0.4,1.1 0.3,0.8 0.5,0.7 0.5,0.4 0.5,0.2 0.8,0.1 0.9-0.1 1.1-0.2 0.9-0.3 0.8-0.5 0.7-0.7 0.5-0.8 0.6-1 0.5-1.3 0.4-1.5 0.7-3.2 0.6-3.8 0.7-5.7 1.3-14.3 0.5-2.6 0.1-0.6 0.2-0.2 0.1,0.2 0.1,0.6 0.2,2.3 0.9,17.8 0.3,4.7 0.3,3.4 0.4,3 0.4,2 0.3,0.8 0.3,0.7 0.3,0.5 0.4,0.3" fill="none" stroke="#ff0000" stroke-width="1.8" stroke-linejoin="round" stroke-dasharray="9.7 6" clip-path="url(#c20)"/>
<rect x="143.5" y="475.9" width="49" height="46" fill="#fff" stroke="#262626" stroke-width="0.9"/>
<path d="M147.6,484.9H176.9" stroke="#ff0000" stroke-width="1.8" fill="none" stroke-dasharray="9.7 6"/>
<text class="lg" x="179.8" y="488.3">u</text>
<path d="M147.6,499H176.9" stroke="#00ff00" stroke-width="1.8" fill="none" stroke-dasharray="7.8 3.1 1.75 3.1"/>
<text class="lg" x="179.8" y="502.4">v</text>
<path d="M147.6,513.2H176.9" stroke="#0000ff" stroke-width="1.8" fill="none"/>
<text class="lg" x="179.8" y="516.6">w</text>
<g class="tk" text-anchor="middle">
<text x="257.8" y="663.35">0</text>
<text x="302.69" y="663.35">50</text>
<text x="347.58" y="663.35">100</text>
<text x="392.46" y="663.35">150</text>
<text x="437.35" y="663.35">200</text>
</g>
<g class="tk" text-anchor="end">
<text x="253.4" y="651.45">0</text>
<text x="253.4" y="618.97">2</text>
<text x="253.4" y="586.49">4</text>
<text x="253.4" y="554">6</text>
<text x="253.4" y="521.52">8</text>
<text x="253.4" y="489.04">10</text>
</g>
<text class="xl" text-anchor="middle" x="347.58" y="678.65">t</text>
<clipPath id="c21"><rect x="256.8" y="468.8" width="181.55" height="179.85"/></clipPath>
<path d="M257.8,468.8H437.35V647.45H257.8ZM257.8,647.45v-1.9M257.8,468.8v1.9M302.69,647.45v-1.9M302.69,468.8v1.9M347.58,647.45v-1.9M347.58,468.8v1.9M392.46,647.45v-1.9M392.46,468.8v1.9M437.35,647.45v-1.9M437.35,468.8v1.9M257.8,647.45h1.9M437.35,647.45h-1.9M257.8,614.97h1.9M437.35,614.97h-1.9M257.8,582.49h1.9M437.35,582.49h-1.9M257.8,550h1.9M437.35,550h-1.9M257.8,517.52h1.9M437.35,517.52h-1.9M257.8,485.04h1.9M437.35,485.04h-1.9" fill="none" stroke="#262626" stroke-width="0.9"/>
<path d="M257.8,623.3l0.4-6.8 0.4-7.5 0.4-10.4 0.6-20.4 0.2-2.6 0.1-0.6 0.1,0.5 0.1,2.4 0.9,24.5 0.7,14.5 0.4,6.1 0.5,5.4 0.5,4.5 0.4,3.5 0.7,3.3 0.7,2.5 0.4,1.1 0.4,0.8 0.4,0.7 0.5,0.6 0.7,0.5 0.6,0.3 0.7,0.2 0.6-0.1 0.6-0.2 0.5-0.5 0.5-0.6 0.4-0.8 0.3-1 0.4-1.3 0.6-3.2 0.5-4.5 0.5-5.6 0.3-6.1 0.4-7.9 0.9-28.2 0.1-3 0.1-0.6 0.1,0.4 0.1,2.1 0.9,20.9 0.6,11.9 0.7,9.6 0.4,3.9 0.5,3.5 0.5,3 0.6,2.5 0.6,2 0.7,1.5 0.4,0.6 0.4,0.4 0.5,0.4 0.4,0.2 0.5,0 0.4-0.1 0.4-0.3 0.4-0.4 0.4-0.7 0.4-1.1 0.4-1.2 0.3-1.7 0.6-4.1 0.6-5.9 0.4-6.3 0.4-8.6 0.3-10.1 0.6-19.6 0.2-3 0-0.6 0.1,0.4 0.2,2.1 0.8,21.2 0.6,12.1 0.7,9.1 0.4,4.1 0.4,3.3 0.5,3.2 0.6,2.5 0.5,2 0.7,1.7 0.4,0.6 0.4,0.5 0.4,0.4 0.4,0.3 0.5,0.2 0.4,0 0.4-0.1 0.4-0.3 0.5-0.7 0.5-1 0.4-1.2 0.3-1.6 0.4-2 0.3-2.4 0.6-5.7 0.4-6.1 0.4-8.4 0.4-11.2 0.6-19.7 0.1-3 0.1-0.7 0.1,0.5 0.1,2.1 0.8,20.3 0.6,12.4 0.7,9.4 0.4,4.2 0.4,3.4 0.5,3.3 0.5,2.4 0.6,2.1 0.6,1.7 0.4,0.6 0.4,0.7 0.4,0.4 0.4,0.3 0.4,0.2 0.4,0.1 0.4-0.1 0.5-0.2 0.5-0.6 0.5-0.9 0.4-1.1 0.4-1.5 0.4-1.9 0.3-2.2 0.5-5.9 0.5-6.7 0.4-8.4 0.4-11.2 0.6-19.7 0.1-3 0.1-0.7 0.1,0.5 0.1,2.1 0.8,20.3 0.7,12.4 0.6,9.4 0.8,7.3 0.5,3.3 0.5,2.5 0.5,2.1 0.7,1.7 0.7,1.3 0.4,0.5 0.4,0.3 0.4,0.3 0.4,0.1 0.4,0 0.5-0.2 0.5-0.5 0.5-0.8 0.4-1.1 0.4-1.4 0.4-1.8 0.4-2.4 0.5-5.6 0.5-7.3 0.4-8.4 0.4-11.2 0.6-19.7 0.2-3 0-0.7 0.1,0.5 0.2,2.1 0.8,20.3 0.6,12.4 0.7,9.4 0.7,7.3 0.5,3 0.5,2.6 0.5,2.1 0.7,1.8 0.6,1.2 0.4,0.5 0.4,0.4 0.4,0.3 0.4,0.1 0.4,0 0.4-0.1 0.6-0.5 0.5-0.7 0.4-1.1 0.4-1.4 0.4-1.7 0.4-2.3 0.5-5.4 0.5-7.1 0.4-8.1 0.4-10.8 0.7-21.1 0.1-3 0.1-0.7 0.1,0.5 0.1,2.1 0.8,20.3 0.7,12.4 0.6,9.4 0.8,7.3 0.5,3.3 0.5,2.5 0.5,2.1 0.6,1.7 0.8,1.3 0.3,0.5 0.4,0.3 0.4,0.3 0.5,0.2 0.4,0 0.4-0.1 0.6-0.4 0.5-0.8 0.5-1.1 0.4-1.3 0.4-1.7 0.3-2.2 0.7-5.8 0.4-7 0.5-8.1 0.4-10.9 0.6-21.1 0.1-3 0.1-0.7 0.1,0.5 0.1,2.1 0.8,20.3 0.7,12.4 0.6,9.4 0.8,6.9 0.4,3.2 0.5,2.6 0.5,2.2 0.7,1.8 0.6,1.3 0.4,0.5 0.4,0.4 0.4,0.3 0.4,0.1 0.4,0.1 0.4-0.1 0.6-0.4 0.5-0.7 0.5-1.1 0.4-1.4 0.4-1.6 0.4-2.2 0.6-5.8 0.5-7.1 0.4-8.1 0.4-10.8 0.6-21.1 0.2-3 0-0.7 0.1,0.5 0.2,2.1 0.8,20.3 0.6,12.4 0.7,9.4 0.7,6.9 0.4,3.2 0.5,2.6 0.6,2.2 0.6,1.7 0.6,1.3 0.4,0.5 0.4,0.4 0.4,0.3 0.4,0.2 0.4,0.1 0.4-0.1 0.3-0.1 0.3-0.3 0.6-0.7 0.5-1.1 0.4-1.4 0.3-1.6 0.4-2.2 0.6-5.8 0.5-7.1 0.4-8.1 0.4-10.8 0.7-21.1 0.1-3 0.1-0.7 0.1,0.5 0.1,2.1 0.8,20.3 0.6,12.4 0.7,9.4 0.7,6.9 0.5,3.2 0.5,2.6 0.5,2.2 0.6,1.7 0.7,1.3 0.3,0.5 0.4,0.4 0.4,0.3 0.4,0.2 0.4,0.1 0.4-0.1 0.3-0.1 0.3-0.2 0.6-0.7 0.5-1.1 0.4-1.3 0.3-1.6 0.4-2.1 0.6-5.6 0.5-6.8 0.5-8.9 0.4-10.8 0.6-21.1 0.1-3 0.1-0.7 0.1,0.5 0.1,2.1 0.8,20.3 0.7,12.4 0.7,9.4 0.7,6.9 0.4,3.2 0.5,2.6 0.5,2.2 0.6,1.7 0.7,1.3 0.7,0.9 0.4,0.3 0.4,0.2 0.4,0.1 0.4,0 0.3-0.2 0.3-0.2 0.6-0.7 0.5-1 0.4-1.2 0.4-1.8 0.3-2.1 0.7-5.6 0.4-6.8 0.5-8.9 0.4-10.8 0.6-21.1 0.2-3 0.1-0.7 0,0.5 0.2,2.1 0.8,20.3 0.6,12.4 0.7,9.4 0.7,6.9 0.5,3.2 0.4,2.6 0.6,2.2 0.6,1.7 0.6,1.3 0.8,0.9 0.4,0.3 0.4,0.2 0.4,0.1 0.4,0 0.3-0.1 0.3-0.2 0.5-0.7 0.5-0.9 0.5-1.4 0.4-1.8 0.3-2.1 0.7-5.6 0.5-6.8 0.4-8.9 0.4-10.8 0.7-21.1 0.1-3 0.1-0.7 0.1,0.5 0.1,2.1 0.9,22.3 0.7,13.2 0.4,5.6 0.5,4.8 0.5,4.2 0.5,3.4 0.7,3.1 0.4,1.3 0.5,1.2 0.5,0.9 0.5,0.7 0.5,0.5 0.5,0.3 0.6,0 0.5-0.1 0.5-0.4 0.5-0.6 0.4-0.8 0.3-1.1 0.7-2.8" fill="none" stroke="#0000ff" stroke-width="1.8" stroke-linejoin="round" clip-path="url(#c21)"/>
<path d="M257.8,485l0.2,46 0.3,38.4 0.3,29.1 0.4,20.2 0.4,12.9 0.2,5.2 0.3,3.5 0.3,2.6 0.4,1.8 0.4,1.2 0.3,0.4 0.3,0.3 0.3,0.2 0.4,0.1 0.5-0.1 0.5-0.1 1.1-0.4 0.9-0.8 0.7-0.9 0.7-1.2 0.6-1.5 0.5-1.8 0.8-3.6 0.7-4.8 0.8-6.8 1.5-16.5 0.4-3 0.3-0.8 0.1-0.2 0.2,0.2 0.1,0.6 0.3,2.9 1.2,18 0.7,8.2 0.5,3.3 0.4,2.6 0.4,1.9 0.6,1.6 0.5,1 0.3,0.3 0.4,0.3 0.3,0.2 0.4,0 0.3,0 0.4-0.2 0.7-0.6 0.6-0.9 0.6-1.3 0.5-1.7 0.7-3.2 0.7-3.9 0.7-6.1 1.4-14.5 0.4-2.6 0.2-0.6 0.2-0.2 0.1,0.2 0.1,0.6 0.2,2.8 1.1,20.1 0.3,4 0.3,3.2 0.5,2.8 0.3,1.1 0.4,0.8 0.3,0.6 0.4,0.5 0.5,0.2 0.5,0.1 0.8,0 0.8-0.4 0.7-0.5 0.7-0.7 0.6-0.9 0.4-1.1 0.5-1.2 0.4-1.7 0.8-3.5 0.6-4.6 0.6-5.2 1.1-10.5 0.3-3 0.4-1.9 0.1-0.5 0.2-0.1 0.1,0.2 0.1,0.5 0.2,2.7 1.1,19.6 0.3,3.8 0.3,3.1 0.5,2.7 0.3,1.1 0.4,0.8 0.3,0.6 0.4,0.4 0.5,0.3 0.6,0.1 0.7-0.1 0.8-0.4 0.7-0.5 0.7-0.7 0.6-0.9 0.5-1.1 0.4-1.2 0.4-1.6 0.8-3.5 0.6-4.6 0.6-5.1 1.1-10.4 0.3-3 0.4-1.9 0.2-0.5 0.1-0.1 0.1,0.2 0.1,0.5 0.2,2.7 1.1,19.4 0.3,3.8 0.3,3 0.5,2.8 0.4,1 0.3,0.8 0.3,0.6 0.4,0.4 0.5,0.3 0.6,0.1 0.7-0.1 0.8-0.4 0.8-0.5 0.6-0.7 0.6-0.9 0.5-1.1 0.4-1.2 0.5-1.6 0.7-3.5 0.6-4.6 0.6-5.1 1.1-10.4 0.3-3 0.4-1.9 0.2-0.5 0.1-0.1 0.1,0.2 0.1,0.5 0.2,2.7 1.1,19.4 0.3,3.7 0.3,3.1 0.5,2.7 0.3,1 0.3,0.8 0.4,0.6 0.3,0.4 0.5,0.2 0.5,0.2 0.7-0.1 0.8-0.4 0.7-0.5 0.6-0.7 0.6-0.9 0.4-1.1 0.5-1.2 0.4-1.7 0.8-3.5 0.6-4.4 1.9-18.1 0.4-2.1 0.2-0.6 0.1-0.2 0.1,0.1 0.1,0.3 0.2,1.7 1,19.4 0.4,4.6 0.4,3.5 0.5,2.8 0.3,1 0.3,0.8 0.4,0.6 0.4,0.4 0.4,0.2 0.6,0.1 0.7-0.1 0.8-0.3 0.7-0.5 0.6-0.7 0.6-0.9 0.5-1.1 0.5-1.2 0.4-1.6 0.6-3 0.6-3.7 0.7-5.2 1.3-13.6 0.5-2.6 0.1-0.7 0.2-0.3 0.1,0 0.1,0.4 0.2,1.7 1,19.4 0.4,4.6 0.4,3.5 0.5,2.7 0.3,1 0.3,0.8 0.3,0.6 0.4,0.4 0.5,0.3 0.5,0.1 0.7-0.1 0.8-0.3 0.7-0.5 0.6-0.8 0.6-0.9 0.5-1.1 0.4-1.2 0.5-1.7 0.7-3.5 0.6-4.4 2-18.1 0.3-2.1 0.2-0.6 0.1-0.2 0.1,0 0.1,0.4 0.2,1.7 1.1,19.4 0.3,4.6 0.4,3.5 0.5,2.7 0.3,1 0.3,0.8 0.4,0.6 0.3,0.4 0.5,0.3 0.5,0.1 0.7-0.1 0.8-0.3 0.7-0.5 0.7-0.8 0.5-0.9 0.5-1.1 0.5-1.2 0.4-1.7 0.7-3.5 0.7-4.4 1.9-18.1 0.4-2.1 0.1-0.6 0.2-0.2 0.1,0 0.1,0.4 0.1,1.7 1.1,19.4 0.4,4.6 0.4,3.5 0.5,2.7 0.2,1 0.4,0.8 0.3,0.6 0.4,0.4 0.4,0.3 0.5,0.1 0.7-0.1 0.8-0.3 0.7-0.5 0.6-0.7 0.6-0.9 0.5-1.1 0.5-1.2 0.4-1.6 0.7-3 0.5-3.7 0.7-5.2 1.4-13.6 0.4-2.6 0.1-0.7 0.2-0.3 0.1,0 0.1,0.4 0.2,1.7 1.1,19.4 0.3,4.6 0.4,3.5 0.5,2.6 0.2,1 0.3,0.8 0.4,0.6 0.4,0.5 0.4,0.2 0.5,0.2 0.8-0.1 0.7-0.3 0.8-0.5 0.6-0.7 0.6-0.9 0.5-1.1 0.4-1.2 0.5-1.6 0.6-3 0.6-3.7 0.6-5.2 1.4-13.6 0.3-2.4 0.2-0.8 0.2-0.3 0.1-0.1 0,0.1 0.1,0.3 0.2,1.7 1.1,19.4 0.3,4.6 0.4,3.2 0.5,2.7 0.2,1 0.3,0.9 0.4,0.7 0.4,0.4 0.4,0.3 0.5,0.2 0.7,0 0.8-0.3 0.8-0.5 0.7-0.7 0.5-0.9 0.5-1 0.5-1.4 0.5-1.6 0.6-3 0.6-4 0.7-5.4 1.3-12.8 0.3-2.5 0.2-0.8 0.2-0.5 0.1-0.1 0.1,0.2 0.2,1.9 1.1,19.4 0.4,4.6 0.3,3.2 0.5,2.7 0.5,1.8 0.3,0.6 0.3,0.5 0.4,0.3 0.5,0.2 0.7,0.1 0.8-0.2 0.7-0.4 0.8-0.7 0.6-0.8 0.5-1 0.5-1.3 0.5-1.5 0.7-3.5 0.8-4.7 0.5-5.1 1.3-12" fill="none" stroke="#00ff00" stroke-width="1.8" stroke-linejoin="round" stroke-dasharray="7.8 3.1 1.75 3.1" clip-path="url(#c21)"/>
<path d="M257.8,631.2l0.4,6.4 0.5,4.2 0.2,1.6 0.3,1.1 0.3,1 0.4,0.8 0.5,0.5 0.5,0.3 0.7,0.2 0.9,0.1 2,0 1.8-0.1 1.2-0.2 0.8-0.4 0.5-0.3 0.4-0.4 0.7-1 0.6-1.4 0.5-2 0.4-2.4 0.4-2.8 1.4-12 0.2-1.6 0.2-0.4 0.1-0.2 0.1,0.2 0.1,0.4 0.1,1.5 0.8,10.5 0.4,4 0.3,2.8 0.5,2.3 0.3,1.1 0.3,0.7 0.4,0.5 0.4,0.3 0.5,0.3 0.6,0 0.7-0.1 0.7-0.3 0.6-0.4 0.5-0.5 0.5-0.6 0.4-0.8 0.4-0.8 0.4-1.1 0.7-2.6 0.6-3 0.5-3.6 1.8-15.4 0.3-1.9 0.2-0.6 0.2-0.2 0.1,0.2 0.1,0.5 0.1,2 0.8,13.5 0.4,5.2 0.3,3.7 0.5,2.9 0.3,1.4 0.3,0.9 0.4,0.7 0.4,0.5 0.5,0.3 0.5,0.1 0.8,0 0.7-0.3 0.6-0.3 0.6-0.5 0.5-0.7 0.5-0.8 0.5-0.9 0.4-1.1 0.7-2.9 0.7-3.5 0.5-4.3 1.8-16.8 0.4-2.2 0.1-0.6 0.2-0.2 0.1,0.2 0.1,0.6 0.2,2.1 0.7,14.9 0.4,5.7 0.4,4 0.4,3 0.2,1.4 0.3,1.1 0.4,0.8 0.4,0.6 0.5,0.5 0.5,0.2 0.6,0 0.7-0.2 0.7-0.3 0.6-0.5 0.6-0.6 0.5-0.8 0.5-0.9 0.4-1.2 0.8-2.8 0.6-3.4 0.6-4.6 1.9-17.9 0.3-2.1 0.2-0.5 0.1-0.1 0.1,0.2 0.1,0.6 0.2,2.2 0.7,14.4 0.4,6 0.3,4.3 0.4,3.3 0.3,1.4 0.3,1.1 0.3,0.9 0.4,0.7 0.5,0.5 0.4,0.2 0.7,0.1 0.7-0.1 0.7-0.3 0.7-0.5 0.6-0.6 0.5-0.8 0.5-0.9 0.4-1.1 0.4-1.3 0.4-1.7 0.6-3.4 0.7-4.6 1.8-17.9 0.4-2.1 0.1-0.5 0.2-0.1 0.1,0.2 0.1,0.6 0.1,2.2 0.8,14.4 0.3,6 0.4,4.3 0.4,3.2 0.3,1.5 0.2,1.1 0.3,0.9 0.4,0.6 0.4,0.5 0.5,0.3 0.6,0.1 0.6-0.1 0.7-0.2 0.7-0.5 0.6-0.6 0.6-0.7 0.5-1 0.4-1.1 0.4-1.3 0.4-1.6 0.7-3.6 0.6-4.6 1.9-17.9 0.3-2.1 0.2-0.5 0.1-0.1 0.1,0.2 0.1,0.6 0.2,2.2 0.7,14.4 0.4,6 0.3,4.3 0.4,3.3 0.3,1.4 0.3,1.1 0.3,0.9 0.3,0.7 0.5,0.5 0.5,0.2 0.6,0.1 0.6,0 0.8-0.3 0.7-0.4 0.6-0.5 0.6-0.8 0.5-1 0.5-1.1 0.4-1.2 0.4-1.6 0.7-3.5 0.6-4.5 1.9-18.3 0.3-2.1 0.2-0.5 0.1-0.1 0.1,0.2 0.1,0.6 0.2,2.2 0.7,14.4 0.4,6 0.3,4.3 0.4,3 0.3,1.5 0.2,1.1 0.4,1 0.3,0.7 0.4,0.5 0.5,0.3 0.5,0.1 0.7,0 0.7-0.3 0.7-0.4 0.6-0.5 0.6-0.8 0.5-0.9 0.5-1.2 0.4-1.2 0.4-1.6 0.7-3.5 0.6-4.5 1.9-18.3 0.4-2.1 0.1-0.5 0.2-0.1 0.1,0.2 0.1,0.6 0.1,2.2 0.8,14.4 0.3,6 0.4,4.3 0.3,3 0.3,1.5 0.3,1.1 0.3,1 0.3,0.6 0.4,0.5 0.5,0.3 0.5,0.2 0.7,0 0.7-0.3 0.7-0.4 0.7-0.5 0.6-0.8 0.5-0.9 0.4-1.2 0.5-1.2 0.4-1.6 0.6-3.5 0.7-4.5 1.8-18.3 0.4-2.1 0.2-0.5 0.1-0.1 0.1,0.2 0.1,0.6 0.2,2.2 0.7,14.4 0.4,6 0.3,4.3 0.4,3 0.2,1.5 0.3,1.1 0.3,1 0.3,0.6 0.4,0.5 0.5,0.3 0.5,0.2 0.7,0 0.7-0.2 0.7-0.4 0.7-0.6 0.6-0.7 0.4-0.9 0.5-1.1 0.5-1.4 0.4-1.6 0.7-3.5 0.6-4.5 1.9-18.3 0.3-2.1 0.2-0.5 0.2-0.1 0,0.2 0.1,0.6 0.2,2.2 0.7,14.4 0.4,6 0.3,4.3 0.4,3 0.3,1.5 0.2,1.1 0.4,1 0.3,0.6 0.4,0.5 0.4,0.3 0.6,0.2 0.5,0 0.8-0.2 0.7-0.4 0.7-0.5 0.5-0.8 0.6-0.9 0.4-1 0.5-1.4 0.4-1.5 0.7-3.7 0.6-4.5 1.9-18.3 0.4-2.1 0.2-0.5 0.1-0.1 0.1,0.2 0.1,0.6 0.1,2.2 0.8,14.4 0.3,6 0.4,4.3 0.3,3 0.3,1.5 0.3,1.1 0.3,1 0.3,0.6 0.4,0.5 0.5,0.3 0.5,0.2 0.6,0 0.7-0.2 0.8-0.4 0.7-0.5 0.6-0.8 0.5-0.9 0.5-1 0.4-1.4 0.4-1.5 0.7-3.7 0.7-4.5 1.8-18.3 0.4-2.1 0.2-0.5 0.1-0.1 0.1,0.2 0.1,0.6 0.2,2.2 0.7,14.4 0.3,6 0.4,3.9 0.3,3.1 0.3,1.6 0.3,1.2 0.3,1 0.3,0.6 0.3,0.5 0.5,0.4 0.5,0.2 0.6,0 0.8-0.1 0.7-0.4 0.7-0.5 0.6-0.7 0.5-0.8 0.5-1.1 0.4-1.3 0.4-1.4 0.8-3.5 0.6-4.7 0.6-5.3 1.1-10.7" fill="none" stroke="#ff0000" stroke-width="1.8" stroke-linejoin="round" stroke-dasharray="9.7 6" clip-path="url(#c21)"/>
<rect x="382.8" y="475.9" width="49" height="46" fill="#fff" stroke="#262626" stroke-width="0.9"/>
<path d="M386.9,484.9H416.2" stroke="#ff0000" stroke-width="1.8" fill="none" stroke-dasharray="9.7 6"/>
<text class="lg" x="419.1" y="488.3">u</text>
<path d="M386.9,499H416.2" stroke="#00ff00" stroke-width="1.8" fill="none" stroke-dasharray="7.8 3.1 1.75 3.1"/>
<text class="lg" x="419.1" y="502.4">v</text>
<path d="M386.9,513.2H416.2" stroke="#0000ff" stroke-width="1.8" fill="none"/>
<text class="lg" x="419.1" y="516.6">w</text>
<g class="tk" text-anchor="middle">
<text x="496.5" y="663.35">0</text>
<text x="541.39" y="663.35">50</text>
<text x="586.27" y="663.35">100</text>
<text x="631.16" y="663.35">150</text>
<text x="676.05" y="663.35">200</text>
</g>
<g class="tk" text-anchor="end">
<text x="492.1" y="651.45">0</text>
<text x="492.1" y="618.97">2</text>
<text x="492.1" y="586.49">4</text>
<text x="492.1" y="554">6</text>
<text x="492.1" y="521.52">8</text>
<text x="492.1" y="489.04">10</text>
</g>
<text class="xl" text-anchor="middle" x="586.27" y="678.65">t</text>
<clipPath id="c22"><rect x="495.5" y="468.8" width="181.55" height="179.85"/></clipPath>
<path d="M496.5,468.8H676.05V647.45H496.5ZM496.5,647.45v-1.9M496.5,468.8v1.9M541.39,647.45v-1.9M541.39,468.8v1.9M586.27,647.45v-1.9M586.27,468.8v1.9M631.16,647.45v-1.9M631.16,468.8v1.9M676.05,647.45v-1.9M676.05,468.8v1.9M496.5,647.45h1.9M676.05,647.45h-1.9M496.5,614.97h1.9M676.05,614.97h-1.9M496.5,582.49h1.9M676.05,582.49h-1.9M496.5,550h1.9M676.05,550h-1.9M496.5,517.52h1.9M676.05,517.52h-1.9M496.5,485.04h1.9M676.05,485.04h-1.9" fill="none" stroke="#262626" stroke-width="0.9"/>
<path d="M496.5,622.6l0.7-13.6 1.1-29 0.1-2.5 0.1-0.5 0.1,0.5 0.1,2.2 0.9,23.9 0.7,13.4 0.4,6.1 0.4,4.9 0.4,4.2 0.5,3.4 0.6,3.3 0.6,2.6 0.8,1.9 0.4,0.8 0.4,0.7 0.5,0.5 0.6,0.4 0.6,0.2 0.5,0 0.5-0.1 0.5-0.4 0.4-0.5 0.4-0.7 0.4-0.9 0.3-1.2 0.6-2.9 0.5-4.3 0.5-5.1 0.3-5.7 0.4-7.4 0.9-26.3 0.1-2.7 0.1-0.6 0.1,0.4 0.2,1.9 0.8,18.6 0.6,11.3 0.7,8.7 0.4,3.9 0.4,3 0.5,3 0.5,2.2 0.5,2 0.7,1.4 0.7,1.1 0.4,0.3 0.4,0.3 0.4,0.1 0.4-0.1 0.3-0.2 0.4-0.3 0.4-0.8 0.4-0.9 0.4-1.2 0.3-1.5 0.6-3.8 0.5-5.6 0.4-6.1 0.4-7.1 0.3-9.3 0.6-18 0.2-2.8 0.1-0.6 0,0.5 0.2,1.9 0.8,18.6 0.6,11.3 0.7,8.7 0.7,6.3 0.5,2.9 0.5,2.4 0.5,1.9 0.6,1.6 0.6,1.1 0.4,0.4 0.4,0.4 0.4,0.1 0.3,0.1 0.4-0.1 0.3-0.2 0.5-0.5 0.4-0.9 0.4-1.1 0.4-1.4 0.6-3.8 0.6-5.2 0.4-5.7 0.4-7.6 0.4-10.3 0.6-18 0.1-2.8 0.1-0.6 0.1,0.5 0.1,1.9 0.8,18.6 0.6,10.6 0.6,8.4 0.8,6.6 0.4,3 0.5,2.6 0.5,1.9 0.6,1.6 0.6,1.2 0.4,0.5 0.3,0.4 0.4,0.2 0.3,0.1 0.4,0 0.4-0.2 0.5-0.4 0.4-0.8 0.4-1 0.4-1.4 0.3-1.7 0.3-2.1 0.6-5 0.4-6.2 0.4-7.6 0.4-10.3 0.6-18 0.2-2.8 0-0.6 0.1,0.5 0.2,1.9 0.8,18.6 0.6,10.6 0.6,8.4 0.7,6.6 0.5,3 0.4,2.4 0.5,1.9 0.6,1.7 0.6,1.3 0.4,0.5 0.3,0.3 0.4,0.3 0.3,0.1 0.4,0 0.3-0.1 0.5-0.4 0.5-0.7 0.4-1 0.4-1.4 0.3-1.7 0.3-2 0.6-5.3 0.5-6.2 0.4-7.6 0.4-10.3 0.6-18 0.1-2.8 0.1-0.6 0.1,0.5 0.1,1.9 0.8,18.6 0.6,10.6 0.6,8.4 0.7,6.3 0.5,3.1 0.4,2.4 0.5,2 0.6,1.7 0.6,1.3 0.7,0.9 0.3,0.2 0.4,0.2 0.4,0 0.3-0.1 0.5-0.4 0.5-0.6 0.4-0.9 0.4-1.4 0.3-1.6 0.3-2 0.6-5.1 0.5-6.7 0.4-7.6 0.4-10.3 0.6-18 0.1-2.8 0.1-0.6 0.1,0.5 0.2,1.9 0.8,18.6 0.6,10.6 0.6,8.4 0.7,6.3 0.4,3.1 0.5,2.4 0.4,2 0.6,1.6 0.6,1.3 0.7,0.9 0.3,0.3 0.4,0.2 0.4,0 0.3,0 0.5-0.4 0.5-0.7 0.4-0.9 0.4-1.4 0.4-1.6 0.3-2 0.6-5.1 0.5-6.7 0.4-7.6 0.4-10.3 0.6-18 0.1-2.8 0.1-0.6 0.1,0.5 0.1,1.9 0.8,18.6 0.6,10.6 0.6,8.4 0.7,6.3 0.5,3.1 0.4,2.4 0.5,2 0.5,1.6 0.6,1.3 0.7,0.9 0.4,0.3 0.3,0.2 0.4,0 0.3,0 0.5-0.3 0.5-0.7 0.4-0.9 0.4-1.3 0.4-1.6 0.3-2.2 0.6-5.1 0.5-6.7 0.4-7.6 0.4-10.3 0.6-18 0.1-2.8 0.1-0.6 0.1,0.5 0.2,1.9 0.8,18.6 0.5,9.9 0.6,8.6 0.7,6.4 0.4,2.9 0.5,2.5 0.5,2.1 0.5,1.7 0.6,1.4 0.6,0.9 0.4,0.3 0.3,0.2 0.4,0.1 0.3-0.1 0.5-0.3 0.5-0.6 0.4-1 0.4-1.3 0.4-1.7 0.3-1.9 0.6-5.1 0.5-6.7 0.4-7.7 0.4-10.2 0.6-18 0.1-2.8 0.1-0.6 0.1,0.5 0.1,1.9 0.8,18.6 0.6,10.6 0.6,8.4 0.7,6.3 0.4,2.8 0.5,2.5 0.5,2 0.5,1.7 0.6,1.3 0.7,0.9 0.3,0.3 0.3,0.2 0.4,0.1 0.3-0.1 0.5-0.3 0.5-0.6 0.4-0.9 0.4-1.3 0.4-1.6 0.4-2.2 0.6-5.1 0.4-6.7 0.4-7.6 0.5-10.3 0.5-18 0.2-2.8 0.1-0.6 0.1,0.5 0.1,1.9 0.8,18.6 0.5,9.9 0.7,8.6 0.6,6.5 0.4,2.8 0.5,2.5 0.5,2.2 0.5,1.7 0.6,1.3 0.7,1 0.3,0.3 0.4,0.2 0.4,0.1 0.3,0 0.3-0.1 0.3-0.2 0.4-0.7 0.5-0.9 0.4-1.3 0.4-1.6 0.3-2.2 0.6-5.1 0.5-6.7 0.4-7.6 0.4-10.3 0.6-18 0.1-2.8 0.1-0.6 0.1,0.5 0.1,1.9 0.8,18.6 0.6,9.9 0.6,8.6 0.7,6.5 0.4,2.8 0.4,2.5 0.5,2.2 0.6,1.7 0.6,1.3 0.6,1 0.4,0.3 0.3,0.2 0.4,0.1 0.3,0 0.3-0.1 0.3-0.2 0.5-0.7 0.4-0.9 0.4-1.3 0.4-1.6 0.4-2.2 0.5-5.1 0.5-6.7 0.4-7.6 0.4-10.3 0.6-18 0.2-2.8 0.1-0.6 0,0.5 0.2,1.9 0.8,18.6 0.5,9.9 0.7,8.6 0.6,6.5 0.4,2.8 0.5,2.5 0.5,2.2 0.5,1.7 0.6,1.3 0.7,1 0.3,0.3 0.4,0.2 0.3,0.1 0.4,0 0.3-0.1 0.2-0.2 0.5-0.7 0.5-0.9 0.4-1.3 0.4-1.6 0.3-2.2 0.6-5.1 0.5-6.7 0.4-7.6 0.4-10.3 0.6-18 0.1-2.8 0.1-0.6 0.1,0.5 0.1,1.9 0.9,20.4 0.7,12.1 0.4,5.1 0.5,4.5 0.5,3.7 0.5,3.1 0.4,1.6 0.4,1.5 0.4,1.1 0.4,1 0.5,0.8 0.5,0.5 0.5,0.3 0.5,0 0.5-0.2 0.4-0.3 0.4-0.6 0.3-0.8 0.4-1.1 0.3-1.4 0.5-3.2" fill="none" stroke="#0000ff" stroke-width="1.8" stroke-linejoin="round" clip-path="url(#c22)"/>
<path d="M496.5,485l0.2,46 0.3,38.4 0.3,29 0.4,20.2 0.4,13 0.2,4.4 0.3,3.7 0.3,2.8 0.3,1.9 0.5,1.3 0.3,0.4 0.2,0.3 0.3,0.1 0.4,0.1 0.4-0.1 0.4-0.1 0.9-0.5 0.8-0.8 0.6-1 0.6-1.2 0.6-1.5 0.5-1.8 0.8-4 0.7-5.1 0.6-5.7 1.1-11.7 0.4-3.5 0.4-2.1 0.2-0.5 0.2-0.2 0.1,0.2 0.1,0.6 0.3,2.7 1.3,17 0.7,7.7 0.4,3 0.4,2.3 0.4,1.8 0.5,1.4 0.5,0.9 0.3,0.3 0.3,0.2 0.3,0.1 0.3,0 0.3,0 0.4-0.2 0.5-0.6 0.6-1 0.5-1.2 0.5-1.7 0.8-3.6 0.6-4.7 0.6-5.1 1.1-10.5 0.3-3 0.4-2 0.2-0.4 0.1-0.1 0.1,0.1 0.1,0.6 0.2,2 1,18.9 0.3,4.7 0.4,3.2 0.5,2.7 0.2,1 0.3,0.9 0.4,0.7 0.4,0.4 0.4,0.3 0.5,0.1 0.7-0.1 0.6-0.3 0.7-0.5 0.6-0.7 0.4-0.9 0.5-1 0.5-1.3 0.4-1.5 0.7-3.3 0.6-4.1 1.9-16.8 0.3-2 0.2-0.5 0.2-0.2 0.1,0.2 0.1,0.5 0.2,1.9 1,17.6 0.4,4.3 0.3,3.1 0.5,2.5 0.2,0.9 0.3,0.9 0.4,0.6 0.4,0.4 0.4,0.2 0.5,0.1 0.6-0.1 0.7-0.3 0.6-0.5 0.6-0.7 0.5-0.8 0.5-1 0.4-1.2 0.4-1.4 0.7-3.1 0.6-3.9 1.9-16 0.4-1.9 0.1-0.5 0.2-0.2 0.1,0.2 0.1,0.5 0.2,1.8 1,16.8 0.4,4.1 0.3,2.9 0.5,2.5 0.3,0.9 0.3,0.7 0.4,0.6 0.3,0.4 0.4,0.2 0.5,0 0.6-0.1 0.7-0.3 0.7-0.5 0.5-0.7 0.5-0.8 0.5-1 0.4-1.2 0.4-1.4 0.7-3.1 0.6-3.9 1.9-16 0.4-1.9 0.2-0.5 0.1-0.2 0.1,0.2 0.1,0.5 0.2,1.7 1,16.9 0.4,4.1 0.3,2.9 0.5,2.5 0.3,0.9 0.3,0.6 0.3,0.5 0.4,0.4 0.4,0.3 0.4,0 0.7-0.1 0.6-0.3 0.6-0.5 0.6-0.7 0.5-0.8 0.4-1.1 0.4-1.1 0.4-1.4 0.7-3.2 0.6-4.1 1.9-15.6 0.3-1.9 0.2-0.5 0.1-0.2 0.1,0.1 0.1,0.3 0.2,2 1.1,16.9 0.3,4.1 0.4,2.9 0.5,2.5 0.3,0.9 0.2,0.6 0.3,0.5 0.4,0.4 0.4,0.3 0.5,0 0.6-0.1 0.7-0.3 0.6-0.5 0.5-0.7 0.5-0.8 0.5-1.1 0.4-1.1 0.4-1.4 0.6-3.2 0.7-4.1 1.8-15.6 0.4-1.9 0.2-0.5 0.1-0.2 0.1,0.1 0.1,0.3 0.2,2 1,16.9 0.4,4.1 0.3,2.9 0.5,2.5 0.3,0.9 0.3,0.6 0.3,0.5 0.3,0.4 0.5,0.3 0.4,0 0.7-0.1 0.6-0.3 0.6-0.5 0.6-0.7 0.5-0.8 0.4-1.1 0.4-1.1 0.4-1.4 0.7-3.2 0.6-4.1 1.9-15.6 0.3-1.9 0.2-0.5 0.1-0.2 0.1,0.1 0.1,0.3 0.2,2 1.1,16.8 0.3,4.2 0.4,2.8 0.4,2.4 0.3,0.9 0.3,0.7 0.3,0.5 0.4,0.4 0.4,0.3 0.4,0.1 0.6-0.1 0.6-0.3 0.6-0.5 0.5-0.7 0.5-0.9 0.5-1 0.4-1.1 0.4-1.4 0.7-3.2 0.6-4.1 1.8-15.6 0.4-1.9 0.2-0.5 0.1-0.2 0.1,0.1 0.1,0.3 0.2,2 1,16.9 0.4,4.1 0.4,2.9 0.5,2.5 0.2,0.9 0.3,0.6 0.3,0.5 0.4,0.4 0.4,0.2 0.4,0.1 0.6-0.1 0.7-0.3 0.6-0.5 0.5-0.7 0.5-0.8 0.4-1.1 0.4-1.1 0.4-1.4 0.7-3.2 0.6-4.1 1.9-15.6 0.3-1.9 0.2-0.5 0.2-0.2 0.1,0.1 0,0.3 0.3,2 1,16.9 0.4,4.1 0.3,2.9 0.5,2.5 0.3,0.9 0.2,0.6 0.4,0.5 0.3,0.4 0.4,0.3 0.5,0 0.6,0 0.6-0.4 0.7-0.5 0.5-0.6 0.5-0.9 0.5-1.1 0.4-1.1 0.4-1.4 0.7-3.2 0.6-4.1 1.8-15.6 0.4-1.9 0.2-0.5 0.1-0.2 0.1,0.1 0.1,0.3 0.2,2 1,16.9 0.4,4.1 0.4,2.9 0.5,2.5 0.2,0.9 0.3,0.6 0.3,0.5 0.4,0.4 0.4,0.3 0.4,0 0.7,0 0.6-0.4 0.6-0.5 0.5-0.6 0.5-0.9 0.5-1.1 0.4-1.1 0.4-1.4 0.7-3.2 0.6-4.1 1.9-15.6 0.3-1.9 0.2-0.5 0.2-0.2 0.1,0.2 0.1,0.5 0.2,1.7 0.9,15 0.5,6.4 0.3,2.5 0.4,1.9 0.4,1.5 0.4,0.9 0.6,0.7 0.3,0.1 0.3,0.1 0.4,0 0.4,0 0.8-0.5 0.7-0.7 0.7-0.9 0.5-1.2 0.5-1.4 0.7-2.7 0.6-3.4 0.8-5.3 1.4-12.5 0.4-2.2 0.2-0.5 0.2-0.2 0,0.2 0.1,0.5 0.3,2.3 0.7,13 0.4,5 0.4,3.9 0.4,2.9 0.3,1.3 0.4,0.9 0.4,0.8 0.4,0.5 0.5,0.2 0.7,0 0.7-0.2 0.6-0.5 0.5-0.5 0.4-0.6 0.8-1.5 0.7-2.1 0.6-2.6 0.5-2.8 0.4-3.1 1.5-13 0.5-3.5" fill="none" stroke="#00ff00" stroke-width="1.8" stroke-linejoin="round" stroke-dasharray="7.8 3.1 1.75 3.1" clip-path="url(#c22)"/>
<path d="M496.5,631.2l0.4,5.8 0.4,4.5 0.3,1.7 0.2,1.2 0.4,1 0.4,0.8 0.5,0.6 0.6,0.3 0.8,0.2 1.2,0.1 1.7-0.1 1.3-0.2 0.9-0.3 0.8-0.5 0.7-0.9 0.6-1.4 0.6-1.8 0.5-2.5 0.4-2.7 0.4-3.6 1.2-13.5 0.2-1.9 0.2-0.5 0.1-0.1 0.1,0.1 0.1,0.5 0.2,1.8 0.7,11.8 0.3,5 0.4,3.5 0.4,2.7 0.3,1.1 0.3,1 0.3,0.7 0.4,0.5 0.5,0.3 0.5,0.1 0.6-0.1 0.6-0.3 0.6-0.4 0.4-0.6 0.5-0.7 0.4-0.8 0.7-2 0.7-2.8 0.5-3 0.6-3.9 1.7-15.8 0.3-2 0.2-0.6 0.2-0.2 0.1,0.2 0.1,0.5 0.2,2.1 0.7,13.4 0.3,5.6 0.4,4.1 0.4,3 0.3,1.3 0.2,1 0.3,0.8 0.4,0.7 0.5,0.4 0.5,0.1 0.6,0 0.6-0.2 0.6-0.4 0.5-0.5 0.5-0.6 0.5-0.8 0.4-0.9 0.4-1.2 0.7-2.8 0.6-3.3 0.6-4.3 1.7-16.9 0.4-2.1 0.1-0.6 0.2-0.2 0.1,0.2 0.1,0.6 0.2,2.1 0.7,14.1 0.4,5.8 0.3,4.3 0.4,2.8 0.3,1.5 0.2,1.1 0.3,0.9 0.4,0.6 0.4,0.5 0.4,0.2 0.5,0.1 0.6-0.1 0.6-0.3 0.6-0.5 0.5-0.6 0.5-0.8 0.5-1 0.4-1.1 0.7-2.8 0.6-3.5 0.6-4.3 1.8-16.9 0.3-2.1 0.2-0.6 0.2-0.2 0.1,0.2 0.1,0.6 0.1,2.1 0.8,14.1 0.3,5.8 0.3,3.8 0.4,3 0.3,1.6 0.2,1.2 0.3,0.9 0.4,0.6 0.3,0.5 0.5,0.3 0.5,0.1 0.5-0.1 0.7-0.2 0.6-0.5 0.5-0.6 0.5-0.8 0.4-0.9 0.4-1.1 0.8-2.8 0.6-3.4 0.6-4.2 1.9-17.6 0.3-2 0.2-0.5 0.1-0.1 0.1,0.2 0.1,0.6 0.2,2.1 0.7,14.1 0.4,5.8 0.3,3.8 0.3,3 0.5,2.6 0.3,1 0.4,0.7 0.3,0.5 0.5,0.3 0.5,0.1 0.5,0 0.6-0.3 0.6-0.4 0.6-0.6 0.5-0.8 0.4-0.9 0.5-1.2 0.7-2.8 0.7-3.4 0.6-4.2 1.8-17.6 0.4-2 0.1-0.5 0.2-0.1 0.1,0.2 0.1,0.6 0.1,2.1 0.8,14.1 0.3,5.8 0.3,3.8 0.4,3 0.5,2.6 0.3,1 0.3,0.7 0.4,0.5 0.4,0.3 0.5,0.1 0.5,0 0.6-0.3 0.7-0.4 0.5-0.6 0.5-0.8 0.5-0.9 0.4-1.2 0.8-2.8 0.6-3.4 0.6-4.2 1.8-17.6 0.4-2 0.2-0.5 0.1-0.1 0.1,0.2 0.1,0.6 0.2,2.1 0.7,14.1 0.4,5.8 0.3,3.8 0.3,3 0.5,2.6 0.3,0.9 0.3,0.7 0.4,0.5 0.4,0.3 0.5,0.2 0.5,0 0.6-0.2 0.7-0.5 0.5-0.6 0.5-0.7 0.5-0.9 0.4-1.1 0.8-2.8 0.6-3.3 0.7-4.5 1.8-17.6 0.4-2 0.1-0.5 0.2-0.1 0.1,0.2 0,0.5 0.2,2.2 0.7,14.1 0.4,5.8 0.3,3.8 0.3,2.7 0.5,2.7 0.3,0.9 0.3,0.8 0.4,0.5 0.4,0.4 0.4,0.1 0.5,0 0.6-0.2 0.7-0.4 0.6-0.7 0.5-0.7 0.4-0.9 0.4-1.2 0.8-2.8 0.6-3.4 0.6-4.2 1.9-17.6 0.3-2 0.2-0.5 0.1-0.1 0.1,0.2 0.1,0.5 0.2,2.2 0.7,14.1 0.4,5.8 0.3,3.8 0.3,2.7 0.5,2.7 0.3,0.9 0.3,0.8 0.3,0.5 0.4,0.4 0.5,0.2 0.5,0 0.6-0.2 0.6-0.4 0.6-0.6 0.5-0.7 0.5-0.9 0.4-1.1 0.4-1.3 0.4-1.6 0.7-3.3 0.6-4.5 1.8-17.6 0.4-2 0.2-0.5 0.1-0.1 0.1,0.2 0.1,0.6 0.2,2.1 0.7,14.1 0.3,5.8 0.3,3.8 0.4,2.7 0.5,2.7 0.2,0.9 0.3,0.8 0.4,0.6 0.4,0.3 0.5,0.2 0.5,0 0.6-0.2 0.6-0.4 0.6-0.6 0.6-0.7 0.4-0.9 0.5-1.1 0.4-1.3 0.4-1.6 0.6-3.3 0.6-4.5 1.9-17.6 0.3-2 0.2-0.5 0.1-0.1 0.1,0.2 0.1,0.6 0.2,2.1 0.7,14.1 0.4,5.8 0.3,3.8 0.3,2.7 0.5,2.7 0.3,0.9 0.3,0.8 0.3,0.5 0.4,0.4 0.5,0.2 0.5,0 0.7-0.2 0.6-0.4 0.6-0.6 0.5-0.7 0.5-0.9 0.4-1.1 0.4-1.3 0.4-1.6 0.7-3.3 0.6-4.5 1.8-17.6 0.4-2 0.2-0.5 0.1-0.1 0.1,0.2 0.1,0.6 0.2,2.1 0.7,14.1 0.3,5.8 0.3,3.8 0.4,2.7 0.5,2.7 0.2,0.9 0.3,0.8 0.3,0.5 0.5,0.4 0.4,0.2 0.5,0 0.7-0.2 0.6-0.4 0.6-0.6 0.6-0.7 0.4-0.9 0.5-1.1 0.4-1.3 0.4-1.6 0.6-3.3 0.6-4.5 1.9-17.6 0.3-2 0.2-0.5 0.1-0.1 0.1,0.2 0.1,0.6 0.2,2.1 0.7,14.1 0.4,5.8 0.3,3.8 0.3,2.7 0.5,2.5 0.2,1 0.3,0.8 0.4,0.5 0.4,0.5 0.4,0.2 0.5,0 0.7-0.2 0.6-0.4 0.6-0.5 0.6-0.8 0.5-0.9 0.4-1.1 0.4-1.3 0.4-1.6 0.6-3.3 0.6-4.1 0.6-4.8 1-10.5 0.4-3.6" fill="none" stroke="#ff0000" stroke-width="1.8" stroke-linejoin="round" stroke-dasharray="9.7 6" clip-path="url(#c22)"/>
<rect x="621.5" y="475.9" width="49" height="46" fill="#fff" stroke="#262626" stroke-width="0.9"/>
<path d="M625.6,484.9H654.9" stroke="#ff0000" stroke-width="1.8" fill="none" stroke-dasharray="9.7 6"/>
<text class="lg" x="657.8" y="488.3">u</text>
<path d="M625.6,499H654.9" stroke="#00ff00" stroke-width="1.8" fill="none" stroke-dasharray="7.8 3.1 1.75 3.1"/>
<text class="lg" x="657.8" y="502.4">v</text>
<path d="M625.6,513.2H654.9" stroke="#0000ff" stroke-width="1.8" fill="none"/>
<text class="lg" x="657.8" y="516.6">w</text>
<text class="cp" x="73.3" y="716.2">(a)</text>
<text class="th" transform="translate(103.3,715.2) skewX(-5) scale(0.93,1)">θ</text>
<text class="eq" transform="translate(118.4,714.6) scale(1.82,1)">=</text>
<text class="fr" text-anchor="middle" x="145.4" y="707.7">1</text>
<path d="M141.9,709.8h7" stroke="#262626" stroke-width="0.9"/>
<text class="fr" text-anchor="middle" x="145.4" y="721.5">2</text>
<text class="cp" x="312.5" y="717.4">(b)</text>
<text class="th" transform="translate(343,716.4) skewX(-5) scale(0.93,1)">θ</text>
<text class="eq" transform="translate(358.8,715.8) scale(1.82,1)">=</text>
<text class="fr" text-anchor="middle" x="385.2" y="708.9">3</text>
<path d="M381.7,711h7" stroke="#262626" stroke-width="0.9"/>
<text class="fr" text-anchor="middle" x="385.2" y="722.7">5</text>
<text class="cp" x="553.2" y="718.2">(c)</text>
<text class="th" transform="translate(581.3,717.2) skewX(-5) scale(0.93,1)">θ</text>
<text class="eq" transform="translate(597.1,716.6) scale(1.82,1)">=</text>
<text class="fr" text-anchor="middle" x="623.6" y="709.7">2</text>
<path d="M620.1,711.8h7" stroke="#262626" stroke-width="0.9"/>
<text class="fr" text-anchor="middle" x="623.6" y="723.5">3</text>
</svg>
</body></html>
